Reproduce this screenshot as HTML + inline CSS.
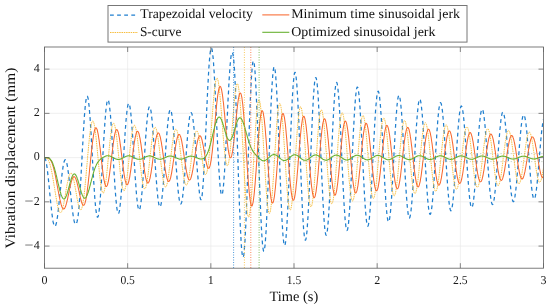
<!DOCTYPE html>
<html lang="en"><head><meta charset="utf-8"><title>Vibration displacement</title>
<style>html,body{margin:0;padding:0;background:#fff}svg{display:block}text{text-rendering:geometricPrecision}</style></head>
<body>
<svg width="550" height="306" viewBox="0 0 550 306">
<rect width="550" height="306" fill="#fff"/>
<path d="M127.67,47.0V268.2M210.83,47.0V268.2M294.00,47.0V268.2M377.17,47.0V268.2M460.33,47.0V268.2M44.5,246.08H543.5M44.5,201.84H543.5M44.5,157.60H543.5M44.5,113.36H543.5M44.5,69.12H543.5" stroke="#e9e9e9" stroke-width="0.7" fill="none"/>
<clipPath id="c"><rect x="44.5" y="47.0" width="499.0" height="221.2"/></clipPath>
<g clip-path="url(#c)" fill="none" stroke-linejoin="round">
<path d="M44.5,157.6 L44.8,157.8 L45.2,158.3 L45.5,159.2 L45.8,160.4 L46.2,162.0 L46.5,163.8 L46.8,166.0 L47.2,168.4 L47.5,171.0 L47.8,173.9 L48.2,176.9 L48.5,180.1 L48.8,183.4 L49.2,186.8 L49.5,190.2 L49.8,193.7 L50.2,197.1 L50.5,200.5 L50.8,203.8 L51.2,207.0 L51.5,210.0 L51.8,212.8 L52.2,215.5 L52.5,217.9 L52.8,220.0 L53.1,221.9 L53.5,223.4 L53.8,224.7 L54.1,225.6 L54.5,226.2 L54.8,226.4 L55.1,226.3 L55.5,225.9 L55.8,225.1 L56.1,224.0 L56.5,222.6 L56.8,220.8 L57.1,218.8 L57.5,216.6 L57.8,214.1 L58.1,211.4 L58.5,208.5 L58.8,205.4 L59.1,202.2 L59.5,199.0 L59.8,195.7 L60.1,192.3 L60.5,189.0 L60.8,185.7 L61.1,182.4 L61.5,179.3 L61.8,176.4 L62.1,173.6 L62.5,170.9 L62.8,168.6 L63.1,166.4 L63.5,164.6 L63.8,163.0 L64.1,161.7 L64.5,160.7 L64.8,160.1 L65.1,159.8 L65.5,159.8 L65.8,160.1 L66.1,160.8 L66.5,161.8 L66.8,163.1 L67.1,164.7 L67.5,166.6 L67.8,168.7 L68.1,171.1 L68.5,173.6 L68.8,176.4 L69.1,179.3 L69.5,182.4 L69.8,185.5 L70.1,188.7 L70.4,192.0 L70.8,195.2 L71.1,198.4 L71.4,201.6 L71.8,204.6 L72.1,207.5 L72.4,210.3 L72.8,212.9 L73.1,215.2 L73.4,217.4 L73.8,219.2 L74.1,220.9 L74.4,222.2 L74.8,223.2 L75.1,223.9 L75.4,224.3 L75.8,224.3 L76.1,224.1 L76.4,223.5 L76.8,222.6 L77.1,221.4 L77.4,220.0 L77.8,218.2 L78.1,216.0 L78.4,213.2 L78.8,209.9 L79.1,206.0 L79.4,201.7 L79.8,196.9 L80.1,191.8 L80.4,186.3 L80.8,180.5 L81.1,174.5 L81.4,168.3 L81.8,162.1 L82.1,155.8 L82.4,149.6 L82.8,143.4 L83.1,137.4 L83.4,131.6 L83.8,126.1 L84.1,120.9 L84.4,116.1 L84.8,111.7 L85.1,107.8 L85.4,104.4 L85.8,101.6 L86.1,99.3 L86.4,97.6 L86.7,96.5 L87.1,96.1 L87.4,96.2 L87.7,97.0 L88.1,98.4 L88.4,100.4 L88.7,103.0 L89.1,106.1 L89.4,109.7 L89.7,113.8 L90.1,118.3 L90.4,123.2 L90.7,128.5 L91.1,134.0 L91.4,139.8 L91.7,145.7 L92.1,151.7 L92.4,157.8 L92.7,163.9 L93.1,169.9 L93.4,175.7 L93.7,181.4 L94.1,186.8 L94.4,191.9 L94.7,196.7 L95.1,201.0 L95.4,204.9 L95.7,208.3 L96.1,211.2 L96.4,213.6 L96.7,215.4 L97.1,216.6 L97.4,217.2 L97.7,217.2 L98.1,216.6 L98.4,215.4 L98.7,213.6 L99.1,211.2 L99.4,208.4 L99.7,205.0 L100.1,201.1 L100.4,196.8 L100.7,192.2 L101.1,187.2 L101.4,181.9 L101.7,176.3 L102.1,170.6 L102.4,164.8 L102.7,158.9 L103.0,153.0 L103.4,147.2 L103.7,141.4 L104.0,135.9 L104.4,130.6 L104.7,125.6 L105.0,120.9 L105.4,116.5 L105.7,112.6 L106.0,109.2 L106.4,106.3 L106.7,103.9 L107.0,102.0 L107.4,100.7 L107.7,100.0 L108.0,99.8 L108.4,100.3 L108.7,101.3 L109.0,102.9 L109.4,105.0 L109.7,107.7 L110.0,110.8 L110.4,114.4 L110.7,118.5 L111.0,122.9 L111.4,127.7 L111.7,132.8 L112.0,138.1 L112.4,143.6 L112.7,149.2 L113.0,154.9 L113.4,160.6 L113.7,166.3 L114.0,171.9 L114.4,177.3 L114.7,182.5 L115.0,187.5 L115.4,192.1 L115.7,196.4 L116.0,200.3 L116.4,203.7 L116.7,206.7 L117.0,209.1 L117.4,211.1 L117.7,212.5 L118.0,213.3 L118.4,213.6 L118.7,213.3 L119.0,212.5 L119.4,211.1 L119.7,209.1 L120.0,206.7 L120.3,203.7 L120.7,200.3 L121.0,196.5 L121.3,192.3 L121.7,187.8 L122.0,182.9 L122.3,177.8 L122.7,172.5 L123.0,167.1 L123.3,161.6 L123.7,156.1 L124.0,150.5 L124.3,145.1 L124.7,139.8 L125.0,134.7 L125.3,129.8 L125.7,125.3 L126.0,121.0 L126.3,117.2 L126.7,113.7 L127.0,110.7 L127.3,108.2 L127.7,106.2 L128.0,104.7 L128.3,103.8 L128.7,103.3 L129.0,103.5 L129.3,104.2 L129.7,105.4 L130.0,107.1 L130.3,109.4 L130.7,112.1 L131.0,115.3 L131.3,118.9 L131.7,122.9 L132.0,127.2 L132.3,131.9 L132.7,136.7 L133.0,141.8 L133.3,147.1 L133.7,152.4 L134.0,157.7 L134.3,163.1 L134.7,168.4 L135.0,173.6 L135.3,178.6 L135.7,183.3 L136.0,187.8 L136.3,192.0 L136.6,195.9 L137.0,199.3 L137.3,202.3 L137.6,204.9 L138.0,207.0 L138.3,208.5 L138.6,209.6 L139.0,210.1 L139.3,210.1 L139.6,209.6 L140.0,208.5 L140.3,207.0 L140.6,204.9 L141.0,202.4 L141.3,199.4 L141.6,196.0 L142.0,192.2 L142.3,188.1 L142.6,183.7 L143.0,179.0 L143.3,174.1 L143.6,169.1 L144.0,164.0 L144.3,158.8 L144.6,153.6 L145.0,148.4 L145.3,143.4 L145.6,138.5 L146.0,133.8 L146.3,129.4 L146.6,125.2 L147.0,121.4 L147.3,118.0 L147.6,114.9 L148.0,112.4 L148.3,110.2 L148.6,108.6 L149.0,107.4 L149.3,106.8 L149.6,106.7 L150.0,107.0 L150.3,107.9 L150.6,109.3 L151.0,111.2 L151.3,113.5 L151.6,116.3 L152.0,119.5 L152.3,123.1 L152.6,127.0 L152.9,131.2 L153.3,135.7 L153.6,140.4 L153.9,145.2 L154.3,150.2 L154.6,155.2 L154.9,160.2 L155.3,165.2 L155.6,170.2 L155.9,174.9 L156.3,179.5 L156.6,183.9 L156.9,188.0 L157.3,191.8 L157.6,195.2 L157.9,198.2 L158.3,200.9 L158.6,203.0 L158.9,204.8 L159.3,206.0 L159.6,206.7 L159.9,207.0 L160.3,206.7 L160.6,206.0 L160.9,204.8 L161.3,203.1 L161.6,200.9 L161.9,198.3 L162.3,195.3 L162.6,191.9 L162.9,188.2 L163.3,184.2 L163.6,179.9 L163.9,175.5 L164.3,170.8 L164.6,166.0 L164.9,161.2 L165.3,156.3 L165.6,151.4 L165.9,146.6 L166.3,141.9 L166.6,137.4 L166.9,133.2 L167.3,129.1 L167.6,125.4 L167.9,122.0 L168.3,118.9 L168.6,116.3 L168.9,114.1 L169.2,112.3 L169.6,111.0 L169.9,110.1 L170.2,109.8 L170.6,109.9 L170.9,110.5 L171.2,111.5 L171.6,113.1 L171.9,115.1 L172.2,117.5 L172.6,120.3 L172.9,123.5 L173.2,127.0 L173.6,130.8 L173.9,134.9 L174.2,139.2 L174.6,143.7 L174.9,148.3 L175.2,153.0 L175.6,157.7 L175.9,162.4 L176.2,167.1 L176.6,171.6 L176.9,176.1 L177.2,180.3 L177.6,184.2 L177.9,187.9 L178.2,191.3 L178.6,194.4 L178.9,197.0 L179.2,199.3 L179.6,201.1 L179.9,202.5 L180.2,203.5 L180.6,203.9 L180.9,203.9 L181.2,203.5 L181.6,202.5 L181.9,201.2 L182.2,199.3 L182.6,197.1 L182.9,194.5 L183.2,191.5 L183.6,188.2 L183.9,184.5 L184.2,180.6 L184.6,176.5 L184.9,172.2 L185.2,167.8 L185.6,163.2 L185.9,158.7 L186.2,154.1 L186.5,149.5 L186.9,145.1 L187.2,140.8 L187.5,136.6 L187.9,132.7 L188.2,129.1 L188.5,125.7 L188.9,122.7 L189.2,120.0 L189.5,117.7 L189.9,115.8 L190.2,114.4 L190.5,113.4 L190.9,112.8 L191.2,112.7 L191.5,113.0 L191.9,113.8 L192.2,115.0 L192.5,116.7 L192.9,118.7 L193.2,121.2 L193.5,124.0 L193.9,127.1 L194.2,130.6 L194.5,134.3 L194.9,138.2 L195.2,142.4 L195.5,146.6 L195.9,151.0 L196.2,155.5 L196.5,159.9 L196.9,164.3 L197.2,168.7 L197.5,172.9 L197.9,176.9 L198.2,180.8 L198.5,184.4 L198.9,187.7 L199.2,190.7 L199.5,193.4 L199.9,195.7 L200.2,197.7 L200.5,199.1 L200.9,199.7 L201.2,199.6 L201.5,198.7 L201.9,197.0 L202.2,194.6 L202.5,191.5 L202.8,187.7 L203.2,183.2 L203.5,178.1 L203.8,172.5 L204.2,166.4 L204.5,159.9 L204.8,153.0 L205.2,145.8 L205.5,138.3 L205.8,130.8 L206.2,123.2 L206.5,115.5 L206.8,108.0 L207.2,100.6 L207.5,93.5 L207.8,86.7 L208.2,80.3 L208.5,74.3 L208.8,68.8 L209.2,63.8 L209.5,59.5 L209.8,55.8 L210.2,52.7 L210.5,50.4 L210.8,48.9 L211.2,48.0 L211.5,48.0 L211.8,48.7 L212.2,50.1 L212.5,52.2 L212.8,55.1 L213.2,58.6 L213.5,62.8 L213.8,67.6 L214.2,72.9 L214.5,78.7 L214.8,85.0 L215.2,91.6 L215.5,98.5 L215.8,105.6 L216.2,112.9 L216.5,120.3 L216.8,127.7 L217.2,135.0 L217.5,142.2 L217.8,149.2 L218.2,155.9 L218.5,162.2 L218.8,168.1 L219.2,173.6 L219.5,178.5 L219.8,182.9 L220.1,186.6 L220.5,189.7 L220.8,192.1 L221.1,193.8 L221.5,194.8 L221.8,195.1 L222.1,194.6 L222.5,193.4 L222.8,191.5 L223.1,188.9 L223.5,185.6 L223.8,181.7 L224.1,177.2 L224.5,172.2 L224.8,166.7 L225.1,160.7 L225.5,154.4 L225.8,147.8 L226.1,140.9 L226.5,133.9 L226.8,126.7 L227.1,119.6 L227.5,112.4 L227.8,105.4 L228.1,98.6 L228.5,92.1 L228.8,85.8 L229.1,80.0 L229.5,74.6 L229.8,69.7 L230.1,65.3 L230.5,61.5 L230.8,58.3 L231.1,55.8 L231.5,54.0 L231.8,52.9 L232.1,52.5 L232.5,52.8 L232.8,53.7 L233.1,55.4 L233.5,57.8 L233.8,60.9 L234.1,64.9 L234.5,69.9 L234.8,75.7 L235.1,82.3 L235.5,89.7 L235.8,97.8 L236.1,106.4 L236.4,115.6 L236.8,125.1 L237.1,135.0 L237.4,145.1 L237.8,155.3 L238.1,165.4 L238.4,175.5 L238.8,185.4 L239.1,195.0 L239.4,204.2 L239.8,212.9 L240.1,221.0 L240.4,228.4 L240.8,235.2 L241.1,241.1 L241.4,246.2 L241.8,250.4 L242.1,253.6 L242.4,255.9 L242.8,257.1 L243.1,257.4 L243.4,256.6 L243.8,254.9 L244.1,252.2 L244.4,248.5 L244.8,243.9 L245.1,238.5 L245.4,232.2 L245.8,225.2 L246.1,217.6 L246.4,209.3 L246.8,200.6 L247.1,191.4 L247.4,181.9 L247.8,172.2 L248.1,162.4 L248.4,152.5 L248.8,142.7 L249.1,133.0 L249.4,123.7 L249.8,114.7 L250.1,106.1 L250.4,98.1 L250.8,90.7 L251.1,84.0 L251.4,78.0 L251.8,72.9 L252.1,68.6 L252.4,65.3 L252.7,62.8 L253.1,61.4 L253.4,60.9 L253.7,61.3 L254.1,62.8 L254.4,65.2 L254.7,68.5 L255.1,72.8 L255.4,77.8 L255.7,83.7 L256.1,90.3 L256.4,97.6 L256.7,105.4 L257.1,113.8 L257.4,122.6 L257.7,131.7 L258.1,141.1 L258.4,150.6 L258.7,160.2 L259.1,169.7 L259.4,179.1 L259.7,188.2 L260.1,197.0 L260.4,205.4 L260.7,213.4 L261.1,220.7 L261.4,227.4 L261.7,233.3 L262.1,238.5 L262.4,242.9 L262.7,246.4 L263.1,248.9 L263.4,250.6 L263.7,251.3 L264.1,251.1 L264.4,249.9 L264.7,247.8 L265.1,244.8 L265.4,240.9 L265.7,236.2 L266.1,230.7 L266.4,224.5 L266.7,217.6 L267.1,210.1 L267.4,202.1 L267.7,193.7 L268.1,185.0 L268.4,175.9 L268.7,166.7 L269.1,157.5 L269.4,148.2 L269.7,139.1 L270.0,130.1 L270.4,121.5 L270.7,113.2 L271.0,105.4 L271.4,98.2 L271.7,91.6 L272.0,85.6 L272.4,80.4 L272.7,76.0 L273.0,72.4 L273.4,69.6 L273.7,67.8 L274.0,66.9 L274.4,66.9 L274.7,67.8 L275.0,69.6 L275.4,72.3 L275.7,75.8 L276.0,80.2 L276.4,85.3 L276.7,91.2 L277.0,97.7 L277.4,104.8 L277.7,112.4 L278.0,120.5 L278.4,128.9 L278.7,137.6 L279.0,146.5 L279.4,155.5 L279.7,164.5 L280.0,173.3 L280.4,182.1 L280.7,190.5 L281.0,198.6 L281.4,206.3 L281.7,213.4 L282.0,220.0 L282.4,226.0 L282.7,231.2 L283.0,235.7 L283.4,239.4 L283.7,242.3 L284.0,244.3 L284.4,245.4 L284.7,245.6 L285.0,245.0 L285.4,243.4 L285.7,241.0 L286.0,237.8 L286.3,233.8 L286.7,229.0 L287.0,223.4 L287.3,217.3 L287.7,210.5 L288.0,203.3 L288.3,195.6 L288.7,187.5 L289.0,179.1 L289.3,170.5 L289.7,161.8 L290.0,153.1 L290.3,144.5 L290.7,136.0 L291.0,127.7 L291.3,119.8 L291.7,112.2 L292.0,105.2 L292.3,98.6 L292.7,92.7 L293.0,87.5 L293.3,82.9 L293.7,79.2 L294.0,76.2 L294.3,74.0 L294.7,72.7 L295.0,72.3 L295.3,72.7 L295.7,74.0 L296.0,76.1 L296.3,79.0 L296.7,82.7 L297.0,87.2 L297.3,92.4 L297.7,98.2 L298.0,104.6 L298.3,111.5 L298.7,118.9 L299.0,126.7 L299.3,134.7 L299.7,143.0 L300.0,151.4 L300.3,159.8 L300.7,168.2 L301.0,176.5 L301.3,184.6 L301.7,192.3 L302.0,199.8 L302.3,206.7 L302.6,213.2 L303.0,219.1 L303.3,224.3 L303.6,228.9 L304.0,232.8 L304.3,235.9 L304.6,238.1 L305.0,239.6 L305.3,240.2 L305.6,240.1 L306.0,239.0 L306.3,237.2 L306.6,234.5 L307.0,231.1 L307.3,227.0 L307.6,222.1 L308.0,216.6 L308.3,210.6 L308.6,204.0 L309.0,196.9 L309.3,189.5 L309.6,181.8 L310.0,173.8 L310.3,165.7 L310.6,157.5 L311.0,149.4 L311.3,141.3 L311.6,133.4 L312.0,125.8 L312.3,118.5 L312.6,111.6 L313.0,105.3 L313.3,99.4 L313.6,94.1 L314.0,89.5 L314.3,85.6 L314.6,82.4 L315.0,80.0 L315.3,78.4 L315.6,77.6 L316.0,77.6 L316.3,78.4 L316.6,80.0 L317.0,82.3 L317.3,85.5 L317.6,89.3 L318.0,93.8 L318.3,99.0 L318.6,104.7 L318.9,111.0 L319.3,117.7 L319.6,124.8 L319.9,132.3 L320.3,139.9 L320.6,147.8 L320.9,155.7 L321.3,163.6 L321.6,171.4 L321.9,179.1 L322.3,186.6 L322.6,193.7 L322.9,200.5 L323.3,206.8 L323.6,212.6 L323.9,217.9 L324.3,222.5 L324.6,226.5 L324.9,229.7 L325.3,232.2 L325.6,234.0 L325.9,235.0 L326.3,235.2 L326.6,234.6 L326.9,233.3 L327.3,231.2 L327.6,228.3 L327.9,224.8 L328.3,220.6 L328.6,215.7 L328.9,210.3 L329.3,204.3 L329.6,197.9 L329.9,191.1 L330.3,184.0 L330.6,176.6 L330.9,169.0 L331.3,161.4 L331.6,153.7 L331.9,146.1 L332.3,138.6 L332.6,131.3 L332.9,124.3 L333.3,117.6 L333.6,111.4 L333.9,105.6 L334.3,100.4 L334.6,95.8 L334.9,91.8 L335.3,88.4 L335.6,85.8 L335.9,83.9 L336.2,82.8 L336.6,82.4 L336.9,82.7 L337.2,83.8 L337.6,85.7 L337.9,88.3 L338.2,91.6 L338.6,95.5 L338.9,100.1 L339.2,105.2 L339.6,110.8 L339.9,116.9 L340.2,123.4 L340.6,130.3 L340.9,137.4 L341.2,144.7 L341.6,152.1 L341.9,159.5 L342.2,166.9 L342.6,174.2 L342.9,181.3 L343.2,188.2 L343.6,194.7 L343.9,200.9 L344.2,206.6 L344.6,211.8 L344.9,216.4 L345.2,220.5 L345.6,223.9 L345.9,226.6 L346.2,228.6 L346.6,229.9 L346.9,230.5 L347.2,230.3 L347.6,229.4 L347.9,227.8 L348.2,225.5 L348.6,222.5 L348.9,218.8 L349.2,214.5 L349.6,209.7 L349.9,204.3 L350.2,198.5 L350.6,192.3 L350.9,185.8 L351.2,179.0 L351.6,171.9 L351.9,164.8 L352.2,157.6 L352.5,150.4 L352.9,143.3 L353.2,136.3 L353.5,129.6 L353.9,123.2 L354.2,117.1 L354.5,111.5 L354.9,106.3 L355.2,101.7 L355.5,97.6 L355.9,94.1 L356.2,91.3 L356.5,89.2 L356.9,87.8 L357.2,87.0 L357.5,87.0 L357.9,87.7 L358.2,89.1 L358.5,91.2 L358.9,94.0 L359.2,97.3 L359.5,101.3 L359.9,105.9 L360.2,110.9 L360.5,116.5 L360.9,122.4 L361.2,128.7 L361.5,135.2 L361.9,142.0 L362.2,148.9 L362.5,155.9 L362.9,162.8 L363.2,169.8 L363.5,176.5 L363.9,183.1 L364.2,189.4 L364.5,195.4 L364.9,201.0 L365.2,206.1 L365.5,210.7 L365.9,214.8 L366.2,218.3 L366.5,221.2 L366.9,223.4 L367.2,225.0 L367.5,225.9 L367.9,226.1 L368.2,225.6 L368.5,224.4 L368.9,222.5 L369.2,220.0 L369.5,216.9 L369.8,213.1 L370.2,208.9 L370.5,204.1 L370.8,198.8 L371.2,193.2 L371.5,187.2 L371.8,180.9 L372.2,174.4 L372.5,167.7 L372.8,161.0 L373.2,154.2 L373.5,147.5 L373.8,140.9 L374.2,134.5 L374.5,128.3 L374.8,122.4 L375.2,116.9 L375.5,111.8 L375.8,107.2 L376.2,103.1 L376.5,99.6 L376.8,96.6 L377.2,94.3 L377.5,92.6 L377.8,91.6 L378.2,91.2 L378.5,91.6 L378.8,92.5 L379.2,94.2 L379.5,96.5 L379.8,99.3 L380.2,102.8 L380.5,106.8 L380.8,111.3 L381.2,116.3 L381.5,121.7 L381.8,127.4 L382.2,133.5 L382.5,139.7 L382.8,146.1 L383.2,152.7 L383.5,159.2 L383.8,165.8 L384.2,172.2 L384.5,178.5 L384.8,184.5 L385.2,190.3 L385.5,195.7 L385.8,200.8 L386.1,205.4 L386.5,209.5 L386.8,213.0 L387.1,216.0 L387.5,218.4 L387.8,220.2 L388.1,221.4 L388.5,221.9 L388.8,221.7 L389.1,220.9 L389.5,219.5 L389.8,217.5 L390.1,214.8 L390.5,211.6 L390.8,207.8 L391.1,203.6 L391.5,198.9 L391.8,193.7 L392.1,188.3 L392.5,182.5 L392.8,176.5 L393.1,170.3 L393.5,164.0 L393.8,157.6 L394.1,151.3 L394.5,145.0 L394.8,138.9 L395.1,132.9 L395.5,127.3 L395.8,121.9 L396.1,116.9 L396.5,112.4 L396.8,108.3 L397.1,104.7 L397.5,101.7 L397.8,99.2 L398.1,97.3 L398.5,96.0 L398.8,95.4 L399.1,95.4 L399.5,96.0 L399.8,97.2 L400.1,99.0 L400.5,101.5 L400.8,104.4 L401.1,108.0 L401.5,112.0 L401.8,116.4 L402.1,121.3 L402.4,126.5 L402.8,132.0 L403.1,137.8 L403.4,143.8 L403.8,149.9 L404.1,156.0 L404.4,162.2 L404.8,168.3 L405.1,174.3 L405.4,180.1 L405.8,185.6 L406.1,190.9 L406.4,195.8 L406.8,200.3 L407.1,204.4 L407.4,208.0 L407.8,211.1 L408.1,213.7 L408.4,215.6 L408.8,217.0 L409.1,217.8 L409.4,218.0 L409.8,217.5 L410.1,216.5 L410.4,214.9 L410.8,212.7 L411.1,209.9 L411.4,206.6 L411.8,202.8 L412.1,198.6 L412.4,194.0 L412.8,189.0 L413.1,183.7 L413.4,178.2 L413.8,172.5 L414.1,166.6 L414.4,160.6 L414.8,154.7 L415.1,148.7 L415.4,142.9 L415.8,137.2 L416.1,131.8 L416.4,126.6 L416.8,121.7 L417.1,117.2 L417.4,113.2 L417.8,109.6 L418.1,106.4 L418.4,103.8 L418.8,101.8 L419.1,100.3 L419.4,99.4 L419.7,99.1 L420.1,99.4 L420.4,100.2 L420.7,101.7 L421.1,103.7 L421.4,106.2 L421.7,109.3 L422.1,112.8 L422.4,116.8 L422.7,121.2 L423.1,125.9 L423.4,131.0 L423.7,136.3 L424.1,141.8 L424.4,147.5 L424.7,153.2 L425.1,159.0 L425.4,164.8 L425.7,170.4 L426.1,176.0 L426.4,181.3 L426.7,186.4 L427.1,191.2 L427.4,195.7 L427.7,199.7 L428.1,203.3 L428.4,206.5 L428.7,209.1 L429.1,211.2 L429.4,212.8 L429.7,213.8 L430.1,214.3 L430.4,214.2 L430.7,213.5 L431.1,212.2 L431.4,210.4 L431.7,208.1 L432.1,205.2 L432.4,201.9 L432.7,198.2 L433.1,194.0 L433.4,189.5 L433.7,184.7 L434.1,179.6 L434.4,174.3 L434.7,168.8 L435.1,163.3 L435.4,157.7 L435.7,152.1 L436.0,146.5 L436.4,141.1 L436.7,135.9 L437.0,130.9 L437.4,126.2 L437.7,121.8 L438.0,117.7 L438.4,114.1 L438.7,111.0 L439.0,108.3 L439.4,106.1 L439.7,104.4 L440.0,103.3 L440.4,102.7 L440.7,102.7 L441.0,103.2 L441.4,104.3 L441.7,105.9 L442.0,108.1 L442.4,110.7 L442.7,113.8 L443.0,117.3 L443.4,121.3 L443.7,125.6 L444.0,130.2 L444.4,135.0 L444.7,140.1 L445.0,145.4 L445.4,150.8 L445.7,156.2 L446.0,161.6 L446.4,167.0 L446.7,172.3 L447.0,177.4 L447.4,182.3 L447.7,186.9 L448.0,191.3 L448.4,195.3 L448.7,198.9 L449.0,202.1 L449.4,204.8 L449.7,207.0 L450.0,208.8 L450.4,210.0 L450.7,210.7 L451.0,210.8 L451.4,210.5 L451.7,209.5 L452.0,208.1 L452.3,206.2 L452.7,203.7 L453.0,200.8 L453.3,197.5 L453.7,193.8 L454.0,189.7 L454.3,185.3 L454.7,180.7 L455.0,175.8 L455.3,170.7 L455.7,165.6 L456.0,160.3 L456.3,155.0 L456.7,149.8 L457.0,144.7 L457.3,139.7 L457.7,134.8 L458.0,130.3 L458.3,126.0 L458.7,122.0 L459.0,118.4 L459.3,115.3 L459.7,112.5 L460.0,110.2 L460.3,108.4 L460.7,107.1 L461.0,106.3 L461.3,106.0 L461.7,106.2 L462.0,107.0 L462.3,108.3 L462.7,110.0 L463.0,112.3 L463.3,115.0 L463.7,118.1 L464.0,121.6 L464.3,125.4 L464.7,129.6 L465.0,134.1 L465.3,138.8 L465.7,143.6 L466.0,148.6 L466.3,153.7 L466.7,158.8 L467.0,163.9 L467.3,168.9 L467.7,173.8 L468.0,178.5 L468.3,183.0 L468.7,187.2 L469.0,191.1 L469.3,194.7 L469.6,197.9 L470.0,200.7 L470.3,203.0 L470.6,204.9 L471.0,206.3 L471.3,207.2 L471.6,207.6 L472.0,207.5 L472.3,206.9 L472.6,205.8 L473.0,204.2 L473.3,202.1 L473.6,199.6 L474.0,196.7 L474.3,193.4 L474.6,189.7 L475.0,185.8 L475.3,181.5 L475.6,177.0 L476.0,172.3 L476.3,167.5 L476.6,162.6 L477.0,157.7 L477.3,152.7 L477.6,147.9 L478.0,143.1 L478.3,138.5 L478.6,134.1 L479.0,129.9 L479.3,126.0 L479.6,122.5 L480.0,119.3 L480.3,116.5 L480.6,114.1 L481.0,112.2 L481.3,110.7 L481.6,109.7 L482.0,109.2 L482.3,109.2 L482.6,109.7 L483.0,110.6 L483.3,112.0 L483.6,113.9 L484.0,116.2 L484.3,119.0 L484.6,122.1 L485.0,125.5 L485.3,129.3 L485.6,133.4 L485.9,137.7 L486.3,142.2 L486.6,146.8 L486.9,151.5 L487.3,156.3 L487.6,161.1 L487.9,165.9 L488.3,170.5 L488.6,175.0 L488.9,179.3 L489.3,183.4 L489.6,187.3 L489.9,190.8 L490.3,194.0 L490.6,196.8 L490.9,199.2 L491.3,201.2 L491.6,202.7 L491.9,203.8 L492.3,204.4 L492.6,204.6 L492.9,204.2 L493.3,203.4 L493.6,202.2 L493.9,200.4 L494.3,198.3 L494.6,195.8 L494.9,192.8 L495.3,189.5 L495.6,186.0 L495.9,182.1 L496.3,178.0 L496.6,173.7 L496.9,169.2 L497.3,164.6 L497.6,160.0 L497.9,155.4 L498.3,150.8 L498.6,146.2 L498.9,141.8 L499.3,137.6 L499.6,133.5 L499.9,129.7 L500.3,126.3 L500.6,123.1 L500.9,120.3 L501.3,117.8 L501.6,115.8 L501.9,114.2 L502.2,113.0 L502.6,112.3 L502.9,112.1 L503.2,112.3 L503.6,113.0 L503.9,114.1 L504.2,115.6 L504.6,117.6 L504.9,120.0 L505.2,122.7 L505.6,125.8 L505.9,129.2 L506.2,132.9 L506.6,136.8 L506.9,141.0 L507.2,145.3 L507.6,149.7 L507.9,154.1 L508.2,158.6 L508.6,163.1 L508.9,167.5 L509.2,171.8 L509.6,176.0 L509.9,180.0 L510.2,183.7 L510.6,187.2 L510.9,190.3 L511.2,193.1 L511.6,195.6 L511.9,197.6 L512.2,199.3 L512.6,200.5 L512.9,201.3 L513.2,201.7 L513.6,201.6 L513.9,201.1 L514.2,200.1 L514.6,198.7 L514.9,196.9 L515.2,194.7 L515.6,192.1 L515.9,189.2 L516.2,186.0 L516.6,182.5 L516.9,178.7 L517.2,174.7 L517.6,170.6 L517.9,166.4 L518.2,162.1 L518.5,157.7 L518.9,153.3 L519.2,149.0 L519.5,144.8 L519.9,140.8 L520.2,136.9 L520.5,133.2 L520.9,129.8 L521.2,126.6 L521.5,123.8 L521.9,121.4 L522.2,119.3 L522.5,117.6 L522.9,116.3 L523.2,115.4 L523.5,114.9 L523.9,114.9 L524.2,115.3 L524.5,116.1 L524.9,117.4 L525.2,119.1 L525.5,121.1 L525.9,123.5 L526.2,126.2 L526.5,129.3 L526.9,132.6 L527.2,136.2 L527.5,140.0 L527.9,144.0 L528.2,148.0 L528.5,152.2 L528.9,156.4 L529.2,160.7 L529.5,164.9 L529.9,169.0 L530.2,172.9 L530.5,176.8 L530.9,180.4 L531.2,183.8 L531.5,186.9 L531.9,189.7 L532.2,192.2 L532.5,194.3 L532.9,196.0 L533.2,197.4 L533.5,198.3 L533.9,198.9 L534.2,199.0 L534.5,198.7 L534.9,198.0 L535.2,196.9 L535.5,195.4 L535.8,193.5 L536.2,191.3 L536.5,188.7 L536.8,185.8 L537.2,182.6 L537.5,179.2 L537.8,175.6 L538.2,171.8 L538.5,167.9 L538.8,163.8 L539.2,159.8 L539.5,155.7 L539.8,151.6 L540.2,147.6 L540.5,143.7 L540.8,140.0 L541.2,136.4 L541.5,133.1 L541.8,130.0 L542.2,127.2 L542.5,124.7 L542.8,122.5 L543.2,120.8 L543.5,119.3" stroke="#1F7FCF" stroke-width="1.25" stroke-dasharray="3.8 3.3"/>
<path d="M44.5,157.6 L44.8,157.6 L45.2,157.6 L45.5,157.6 L45.8,157.7 L46.2,157.8 L46.5,158.0 L46.8,158.2 L47.2,158.5 L47.5,158.8 L47.8,159.3 L48.2,159.8 L48.5,160.4 L48.8,161.1 L49.2,162.0 L49.5,162.9 L49.8,163.9 L50.2,165.1 L50.5,166.3 L50.8,167.6 L51.2,169.1 L51.5,170.6 L51.8,172.2 L52.2,173.9 L52.5,175.7 L52.8,177.5 L53.1,179.4 L53.5,181.4 L53.8,183.4 L54.1,185.4 L54.5,187.5 L54.8,189.5 L55.1,191.6 L55.5,193.6 L55.8,195.7 L56.1,197.7 L56.5,199.6 L56.8,201.5 L57.1,203.3 L57.5,205.0 L57.8,206.5 L58.1,207.9 L58.5,209.1 L58.8,210.2 L59.1,211.1 L59.5,211.8 L59.8,212.3 L60.1,212.6 L60.5,212.7 L60.8,212.6 L61.1,212.3 L61.5,211.8 L61.8,211.1 L62.1,210.2 L62.5,209.2 L62.8,207.9 L63.1,206.6 L63.5,205.0 L63.8,203.4 L64.1,201.7 L64.5,199.8 L64.8,197.9 L65.1,196.0 L65.5,194.0 L65.8,192.0 L66.1,190.0 L66.5,188.0 L66.8,186.1 L67.1,184.3 L67.5,182.6 L67.8,180.9 L68.1,179.4 L68.5,178.0 L68.8,176.8 L69.1,175.7 L69.5,174.8 L69.8,174.0 L70.1,173.5 L70.4,173.2 L70.8,173.0 L71.1,173.1 L71.4,173.3 L71.8,173.8 L72.1,174.4 L72.4,175.2 L72.8,176.2 L73.1,177.3 L73.4,178.6 L73.8,180.1 L74.1,181.6 L74.4,183.3 L74.8,185.0 L75.1,186.9 L75.4,188.8 L75.8,190.7 L76.1,192.6 L76.4,194.5 L76.8,196.4 L77.1,198.3 L77.4,200.1 L77.8,201.8 L78.1,203.4 L78.4,204.9 L78.8,206.3 L79.1,207.5 L79.4,208.4 L79.8,209.2 L80.1,209.7 L80.4,210.0 L80.8,210.0 L81.1,209.8 L81.4,209.3 L81.8,208.4 L82.1,207.3 L82.4,206.0 L82.8,204.3 L83.1,202.3 L83.4,200.1 L83.8,197.7 L84.1,195.0 L84.4,192.1 L84.8,189.0 L85.1,185.7 L85.4,182.2 L85.8,178.6 L86.1,174.9 L86.4,171.2 L86.7,167.3 L87.1,163.5 L87.4,159.6 L87.7,155.8 L88.1,152.1 L88.4,148.4 L88.7,144.8 L89.1,141.4 L89.4,138.2 L89.7,135.1 L90.1,132.3 L90.4,129.8 L90.7,127.5 L91.1,125.6 L91.4,123.9 L91.7,122.7 L92.1,121.7 L92.4,121.2 L92.7,121.0 L93.1,121.1 L93.4,121.7 L93.7,122.6 L94.1,123.8 L94.4,125.4 L94.7,127.3 L95.1,129.6 L95.4,132.0 L95.7,134.8 L96.1,137.8 L96.4,140.9 L96.7,144.2 L97.1,147.7 L97.4,151.3 L97.7,154.9 L98.1,158.5 L98.4,162.1 L98.7,165.6 L99.1,169.1 L99.4,172.5 L99.7,175.6 L100.1,178.6 L100.4,181.4 L100.7,184.0 L101.1,186.2 L101.4,188.2 L101.7,189.9 L102.1,191.2 L102.4,192.2 L102.7,192.8 L103.0,193.1 L103.4,193.0 L103.7,192.6 L104.0,191.8 L104.4,190.7 L104.7,189.2 L105.0,187.4 L105.4,185.3 L105.7,183.0 L106.0,180.4 L106.4,177.6 L106.7,174.5 L107.0,171.4 L107.4,168.0 L107.7,164.6 L108.0,161.1 L108.4,157.6 L108.7,154.1 L109.0,150.7 L109.4,147.3 L109.7,144.0 L110.0,140.9 L110.4,137.9 L110.7,135.2 L111.0,132.7 L111.4,130.4 L111.7,128.4 L112.0,126.7 L112.4,125.4 L112.7,124.3 L113.0,123.6 L113.4,123.2 L113.7,123.2 L114.0,123.6 L114.4,124.2 L114.7,125.3 L115.0,126.6 L115.4,128.2 L115.7,130.2 L116.0,132.4 L116.4,134.9 L116.7,137.5 L117.0,140.4 L117.4,143.5 L117.7,146.7 L118.0,150.0 L118.4,153.3 L118.7,156.7 L119.0,160.1 L119.4,163.5 L119.7,166.8 L120.0,170.0 L120.3,173.1 L120.7,176.0 L121.0,178.7 L121.3,181.2 L121.7,183.4 L122.0,185.4 L122.3,187.1 L122.7,188.5 L123.0,189.6 L123.3,190.4 L123.7,190.8 L124.0,190.9 L124.3,190.7 L124.7,190.1 L125.0,189.2 L125.3,188.0 L125.7,186.5 L126.0,184.7 L126.3,182.6 L126.7,180.3 L127.0,177.7 L127.3,175.0 L127.7,172.0 L128.0,169.0 L128.3,165.8 L128.7,162.6 L129.0,159.3 L129.3,156.0 L129.7,152.7 L130.0,149.5 L130.3,146.4 L130.7,143.4 L131.0,140.5 L131.3,137.8 L131.7,135.3 L132.0,133.1 L132.3,131.1 L132.7,129.4 L133.0,127.9 L133.3,126.8 L133.7,126.0 L134.0,125.5 L134.3,125.3 L134.7,125.4 L135.0,125.9 L135.3,126.7 L135.7,127.8 L136.0,129.2 L136.3,130.9 L136.6,132.9 L137.0,135.0 L137.3,137.5 L137.6,140.1 L138.0,142.9 L138.3,145.8 L138.6,148.9 L139.0,152.0 L139.3,155.2 L139.6,158.4 L140.0,161.5 L140.3,164.7 L140.6,167.7 L141.0,170.7 L141.3,173.5 L141.6,176.1 L142.0,178.6 L142.3,180.8 L142.6,182.8 L143.0,184.6 L143.3,186.0 L143.6,187.2 L144.0,188.1 L144.3,188.6 L144.6,188.9 L145.0,188.8 L145.3,188.4 L145.6,187.8 L146.0,186.8 L146.3,185.5 L146.6,183.9 L147.0,182.1 L147.3,180.0 L147.6,177.7 L148.0,175.2 L148.3,172.6 L148.6,169.8 L149.0,166.8 L149.3,163.8 L149.6,160.7 L150.0,157.6 L150.3,154.6 L150.6,151.5 L151.0,148.5 L151.3,145.6 L151.6,142.9 L152.0,140.3 L152.3,137.8 L152.6,135.6 L152.9,133.6 L153.3,131.9 L153.6,130.4 L153.9,129.2 L154.3,128.2 L154.6,127.6 L154.9,127.3 L155.3,127.3 L155.6,127.6 L155.9,128.2 L156.3,129.1 L156.6,130.2 L156.9,131.7 L157.3,133.4 L157.6,135.4 L157.9,137.5 L158.3,139.9 L158.6,142.4 L158.9,145.1 L159.3,147.9 L159.6,150.8 L159.9,153.8 L160.3,156.8 L160.6,159.8 L160.9,162.8 L161.3,165.7 L161.6,168.5 L161.9,171.2 L162.3,173.8 L162.6,176.2 L162.9,178.4 L163.3,180.4 L163.6,182.1 L163.9,183.6 L164.3,184.9 L164.6,185.8 L164.9,186.5 L165.3,186.9 L165.6,187.0 L165.9,186.8 L166.3,186.3 L166.6,185.5 L166.9,184.4 L167.3,183.1 L167.6,181.5 L167.9,179.7 L168.3,177.6 L168.6,175.4 L168.9,172.9 L169.2,170.4 L169.6,167.7 L169.9,164.9 L170.2,162.0 L170.6,159.1 L170.9,156.2 L171.2,153.3 L171.6,150.5 L171.9,147.7 L172.2,145.1 L172.6,142.5 L172.9,140.2 L173.2,138.0 L173.6,136.0 L173.9,134.2 L174.2,132.7 L174.6,131.4 L174.9,130.4 L175.2,129.7 L175.6,129.3 L175.9,129.1 L176.2,129.2 L176.6,129.7 L176.9,130.4 L177.2,131.3 L177.6,132.6 L177.9,134.0 L178.2,135.8 L178.6,137.7 L178.9,139.8 L179.2,142.1 L179.6,144.6 L179.9,147.2 L180.2,149.9 L180.6,152.6 L180.9,155.4 L181.2,158.2 L181.6,161.1 L181.9,163.8 L182.2,166.5 L182.6,169.1 L182.9,171.6 L183.2,173.9 L183.6,176.1 L183.9,178.1 L184.2,179.8 L184.6,181.4 L184.9,182.7 L185.2,183.7 L185.6,184.5 L185.9,185.0 L186.2,185.2 L186.5,185.1 L186.9,184.8 L187.2,184.2 L187.5,183.3 L187.9,182.2 L188.2,180.8 L188.5,179.2 L188.9,177.4 L189.2,175.4 L189.5,173.2 L189.9,170.8 L190.2,168.3 L190.5,165.8 L190.9,163.1 L191.2,160.4 L191.5,157.7 L191.9,154.9 L192.2,152.2 L192.5,149.6 L192.9,147.1 L193.2,144.6 L193.5,142.3 L193.9,140.2 L194.2,138.2 L194.5,136.5 L194.9,134.9 L195.2,133.6 L195.5,132.5 L195.9,131.7 L196.2,131.2 L196.5,130.9 L196.9,130.9 L197.2,131.1 L197.5,131.7 L197.9,132.4 L198.2,133.5 L198.5,134.7 L198.9,136.3 L199.2,138.0 L199.5,139.9 L199.9,142.0 L200.2,144.2 L200.5,146.6 L200.9,149.1 L201.2,151.6 L201.5,154.1 L201.9,156.7 L202.2,159.2 L202.5,161.6 L202.8,163.9 L203.2,166.1 L203.5,168.1 L203.8,169.8 L204.2,171.3 L204.5,172.6 L204.8,173.6 L205.2,174.2 L205.5,174.6 L205.8,174.6 L206.2,174.2 L206.5,173.5 L206.8,172.4 L207.2,171.0 L207.5,169.2 L207.8,167.1 L208.2,164.7 L208.5,161.9 L208.8,158.8 L209.2,155.5 L209.5,151.9 L209.8,148.1 L210.2,144.0 L210.5,139.8 L210.8,135.5 L211.2,131.1 L211.5,126.5 L211.8,122.0 L212.2,117.5 L212.5,113.0 L212.8,108.7 L213.2,104.4 L213.5,100.4 L213.8,96.6 L214.2,93.1 L214.5,89.9 L214.8,87.0 L215.2,84.5 L215.5,82.4 L215.8,80.7 L216.2,79.4 L216.5,78.6 L216.8,78.2 L217.2,78.2 L217.5,78.7 L217.8,79.7 L218.2,81.1 L218.5,82.8 L218.8,85.0 L219.2,87.6 L219.5,90.5 L219.8,93.7 L220.1,97.3 L220.5,101.0 L220.8,105.0 L221.1,109.1 L221.5,113.4 L221.8,117.8 L222.1,122.2 L222.5,126.6 L222.8,130.9 L223.1,135.2 L223.5,139.3 L223.8,143.2 L224.1,147.0 L224.5,150.4 L224.8,153.6 L225.1,156.5 L225.5,159.0 L225.8,161.2 L226.1,162.9 L226.5,164.3 L226.8,165.2 L227.1,165.7 L227.5,165.7 L227.8,165.4 L228.1,164.6 L228.5,163.3 L228.8,161.7 L229.1,159.7 L229.5,157.3 L229.8,154.5 L230.1,151.5 L230.5,148.1 L230.8,144.6 L231.1,140.7 L231.5,136.8 L231.8,132.7 L232.1,128.4 L232.5,124.2 L232.8,119.9 L233.1,115.7 L233.5,111.6 L233.8,107.5 L234.1,103.7 L234.5,100.0 L234.8,96.6 L235.1,93.6 L235.5,90.9 L235.8,88.5 L236.1,86.6 L236.4,85.1 L236.8,84.1 L237.1,83.7 L237.4,83.7 L237.8,84.2 L238.1,85.2 L238.4,86.8 L238.8,88.9 L239.1,91.5 L239.4,94.6 L239.8,98.1 L240.1,102.1 L240.4,106.5 L240.8,111.2 L241.1,116.3 L241.4,121.7 L241.8,127.3 L242.1,133.2 L242.4,139.2 L242.8,145.3 L243.1,151.4 L243.4,157.6 L243.8,163.7 L244.1,169.7 L244.4,175.6 L244.8,181.2 L245.1,186.6 L245.4,191.7 L245.8,196.5 L246.1,200.8 L246.4,204.7 L246.8,208.1 L247.1,211.0 L247.4,213.4 L247.8,215.2 L248.1,216.4 L248.4,217.0 L248.8,217.0 L249.1,216.4 L249.4,215.2 L249.8,213.5 L250.1,211.2 L250.4,208.3 L250.8,204.9 L251.1,201.1 L251.4,196.8 L251.8,192.2 L252.1,187.2 L252.4,181.9 L252.7,176.4 L253.1,170.7 L253.4,164.9 L253.7,159.0 L254.1,153.1 L254.4,147.3 L254.7,141.6 L255.1,136.1 L255.4,130.8 L255.7,125.7 L256.1,121.0 L256.4,116.7 L256.7,112.8 L257.1,109.4 L257.4,106.5 L257.7,104.0 L258.1,102.2 L258.4,100.9 L258.7,100.1 L259.1,100.0 L259.4,100.4 L259.7,101.4 L260.1,103.0 L260.4,105.1 L260.7,107.7 L261.1,110.9 L261.4,114.5 L261.7,118.5 L262.1,122.9 L262.4,127.7 L262.7,132.7 L263.1,138.0 L263.4,143.5 L263.7,149.1 L264.1,154.8 L264.4,160.5 L264.7,166.2 L265.1,171.7 L265.4,177.1 L265.7,182.3 L266.1,187.3 L266.4,191.9 L266.7,196.2 L267.1,200.1 L267.4,203.5 L267.7,206.5 L268.1,209.0 L268.4,210.9 L268.7,212.3 L269.1,213.2 L269.4,213.5 L269.7,213.2 L270.0,212.4 L270.4,211.0 L270.7,209.1 L271.0,206.6 L271.4,203.7 L271.7,200.3 L272.0,196.5 L272.4,192.3 L272.7,187.8 L273.0,183.0 L273.4,177.9 L273.7,172.6 L274.0,167.2 L274.4,161.7 L274.7,156.2 L275.0,150.7 L275.4,145.3 L275.7,140.0 L276.0,134.9 L276.4,130.0 L276.7,125.4 L277.0,121.2 L277.4,117.4 L277.7,113.9 L278.0,110.9 L278.4,108.4 L278.7,106.4 L279.0,104.9 L279.4,103.9 L279.7,103.5 L280.0,103.6 L280.4,104.3 L280.7,105.5 L281.0,107.2 L281.4,109.5 L281.7,112.2 L282.0,115.3 L282.4,118.9 L282.7,122.9 L283.0,127.2 L283.4,131.8 L283.7,136.7 L284.0,141.8 L284.4,147.0 L284.7,152.3 L285.0,157.6 L285.4,163.0 L285.7,168.3 L286.0,173.4 L286.3,178.4 L286.7,183.2 L287.0,187.7 L287.3,191.9 L287.7,195.7 L288.0,199.1 L288.3,202.2 L288.7,204.7 L289.0,206.8 L289.3,208.4 L289.7,209.4 L290.0,210.0 L290.3,210.0 L290.7,209.5 L291.0,208.4 L291.3,206.9 L291.7,204.8 L292.0,202.3 L292.3,199.4 L292.7,196.0 L293.0,192.2 L293.3,188.1 L293.7,183.7 L294.0,179.1 L294.3,174.2 L294.7,169.2 L295.0,164.1 L295.3,158.9 L295.7,153.7 L296.0,148.6 L296.3,143.5 L296.7,138.6 L297.0,134.0 L297.3,129.5 L297.7,125.4 L298.0,121.6 L298.3,118.1 L298.7,115.1 L299.0,112.5 L299.3,110.4 L299.7,108.7 L300.0,107.6 L300.3,106.9 L300.7,106.8 L301.0,107.1 L301.3,108.0 L301.7,109.4 L302.0,111.3 L302.3,113.6 L302.6,116.4 L303.0,119.5 L303.3,123.1 L303.6,127.0 L304.0,131.2 L304.3,135.6 L304.6,140.3 L305.0,145.1 L305.3,150.1 L305.6,155.1 L306.0,160.1 L306.3,165.1 L306.6,170.0 L307.0,174.8 L307.3,179.4 L307.6,183.7 L308.0,187.8 L308.3,191.6 L308.6,195.0 L309.0,198.1 L309.3,200.7 L309.6,202.9 L310.0,204.6 L310.3,205.8 L310.6,206.6 L311.0,206.9 L311.3,206.6 L311.6,205.9 L312.0,204.7 L312.3,203.0 L312.6,200.8 L313.0,198.3 L313.3,195.3 L313.6,191.9 L314.0,188.2 L314.3,184.2 L314.6,180.0 L315.0,175.5 L315.3,170.9 L315.6,166.1 L316.0,161.3 L316.3,156.4 L316.6,151.5 L317.0,146.7 L317.3,142.1 L317.6,137.6 L318.0,133.3 L318.3,129.3 L318.6,125.5 L318.9,122.1 L319.3,119.1 L319.6,116.4 L319.9,114.2 L320.3,112.4 L320.6,111.1 L320.9,110.2 L321.3,109.9 L321.6,110.0 L321.9,110.6 L322.3,111.6 L322.6,113.2 L322.9,115.1 L323.3,117.5 L323.6,120.3 L323.9,123.5 L324.3,127.0 L324.6,130.8 L324.9,134.8 L325.3,139.1 L325.6,143.6 L325.9,148.2 L326.3,152.9 L326.6,157.6 L326.9,162.3 L327.3,167.0 L327.6,171.5 L327.9,175.9 L328.3,180.1 L328.6,184.1 L328.9,187.8 L329.3,191.2 L329.6,194.2 L329.9,196.9 L330.3,199.1 L330.6,201.0 L330.9,202.4 L331.3,203.3 L331.6,203.8 L331.9,203.8 L332.3,203.4 L332.6,202.4 L332.9,201.1 L333.3,199.3 L333.6,197.1 L333.9,194.5 L334.3,191.5 L334.6,188.2 L334.9,184.5 L335.3,180.7 L335.6,176.6 L335.9,172.3 L336.2,167.8 L336.6,163.3 L336.9,158.8 L337.2,154.2 L337.6,149.7 L337.9,145.2 L338.2,140.9 L338.6,136.8 L338.9,132.9 L339.2,129.2 L339.6,125.9 L339.9,122.8 L340.2,120.1 L340.6,117.9 L340.9,116.0 L341.2,114.5 L341.6,113.5 L341.9,112.9 L342.2,112.8 L342.6,113.1 L342.9,113.9 L343.2,115.1 L343.6,116.7 L343.9,118.8 L344.2,121.2 L344.6,124.0 L344.9,127.1 L345.2,130.6 L345.6,134.3 L345.9,138.2 L346.2,142.3 L346.6,146.6 L346.9,150.9 L347.2,155.4 L347.6,159.8 L347.9,164.2 L348.2,168.5 L348.6,172.7 L348.9,176.8 L349.2,180.6 L349.6,184.2 L349.9,187.6 L350.2,190.6 L350.6,193.3 L350.9,195.6 L351.2,197.5 L351.6,199.0 L351.9,200.1 L352.2,200.8 L352.5,201.0 L352.9,200.8 L353.2,200.2 L353.5,199.1 L353.9,197.6 L354.2,195.8 L354.5,193.5 L354.9,190.9 L355.2,187.9 L355.5,184.6 L355.9,181.1 L356.2,177.4 L356.5,173.4 L356.9,169.3 L357.2,165.1 L357.5,160.8 L357.9,156.5 L358.2,152.3 L358.5,148.1 L358.9,143.9 L359.2,140.0 L359.5,136.2 L359.9,132.6 L360.2,129.3 L360.5,126.3 L360.9,123.6 L361.2,121.3 L361.5,119.3 L361.9,117.8 L362.2,116.6 L362.5,115.8 L362.9,115.5 L363.2,115.6 L363.5,116.1 L363.9,117.1 L364.2,118.4 L364.5,120.1 L364.9,122.2 L365.2,124.7 L365.5,127.5 L365.9,130.6 L366.2,133.9 L366.5,137.5 L366.9,141.3 L367.2,145.2 L367.5,149.3 L367.9,153.4 L368.2,157.6 L368.5,161.7 L368.9,165.8 L369.2,169.8 L369.5,173.7 L369.8,177.4 L370.2,180.9 L370.5,184.2 L370.8,187.2 L371.2,189.9 L371.5,192.2 L371.8,194.2 L372.2,195.8 L372.5,197.1 L372.8,197.9 L373.2,198.3 L373.5,198.4 L373.8,198.0 L374.2,197.2 L374.5,196.0 L374.8,194.4 L375.2,192.4 L375.5,190.1 L375.8,187.5 L376.2,184.6 L376.5,181.4 L376.8,178.0 L377.2,174.3 L377.5,170.6 L377.8,166.7 L378.2,162.7 L378.5,158.6 L378.8,154.6 L379.2,150.6 L379.5,146.7 L379.8,142.9 L380.2,139.3 L380.5,135.8 L380.8,132.6 L381.2,129.6 L381.5,126.9 L381.8,124.6 L382.2,122.6 L382.5,120.9 L382.8,119.6 L383.2,118.7 L383.5,118.2 L383.8,118.1 L384.2,118.4 L384.5,119.0 L384.8,120.1 L385.2,121.5 L385.5,123.4 L385.8,125.5 L386.1,128.0 L386.5,130.7 L386.8,133.8 L387.1,137.0 L387.5,140.5 L387.8,144.1 L388.1,147.9 L388.5,151.7 L388.8,155.6 L389.1,159.5 L389.5,163.4 L389.8,167.2 L390.1,170.9 L390.5,174.5 L390.8,177.9 L391.1,181.1 L391.5,184.0 L391.8,186.7 L392.1,189.0 L392.5,191.1 L392.8,192.8 L393.1,194.1 L393.5,195.1 L393.8,195.7 L394.1,195.9 L394.5,195.7 L394.8,195.2 L395.1,194.2 L395.5,192.9 L395.8,191.3 L396.1,189.3 L396.5,186.9 L396.8,184.3 L397.1,181.5 L397.5,178.4 L397.8,175.1 L398.1,171.6 L398.5,168.0 L398.8,164.3 L399.1,160.5 L399.5,156.7 L399.8,152.9 L400.1,149.2 L400.5,145.6 L400.8,142.1 L401.1,138.7 L401.5,135.6 L401.8,132.7 L402.1,130.0 L402.4,127.7 L402.8,125.6 L403.1,123.9 L403.4,122.5 L403.8,121.4 L404.1,120.8 L404.4,120.5 L404.8,120.6 L405.1,121.0 L405.4,121.8 L405.8,123.0 L406.1,124.5 L406.4,126.4 L406.8,128.6 L407.1,131.0 L407.4,133.7 L407.8,136.7 L408.1,139.9 L408.4,143.2 L408.8,146.7 L409.1,150.2 L409.4,153.9 L409.8,157.6 L410.1,161.2 L410.4,164.8 L410.8,168.4 L411.1,171.8 L411.4,175.1 L411.8,178.2 L412.1,181.0 L412.4,183.7 L412.8,186.1 L413.1,188.1 L413.4,189.9 L413.8,191.3 L414.1,192.4 L414.4,193.2 L414.8,193.5 L415.1,193.5 L415.4,193.2 L415.8,192.5 L416.1,191.4 L416.4,190.0 L416.8,188.3 L417.1,186.3 L417.4,184.0 L417.8,181.4 L418.1,178.6 L418.4,175.6 L418.8,172.4 L419.1,169.1 L419.4,165.6 L419.7,162.1 L420.1,158.5 L420.4,155.0 L420.7,151.5 L421.1,148.0 L421.4,144.7 L421.7,141.4 L422.1,138.4 L422.4,135.6 L422.7,132.9 L423.1,130.6 L423.4,128.5 L423.7,126.7 L424.1,125.2 L424.4,124.1 L424.7,123.3 L425.1,122.8 L425.4,122.7 L425.7,123.0 L426.1,123.6 L426.4,124.5 L426.7,125.8 L427.1,127.4 L427.4,129.3 L427.7,131.5 L428.1,133.9 L428.4,136.6 L428.7,139.4 L429.1,142.5 L429.4,145.7 L429.7,149.0 L430.1,152.4 L430.4,155.8 L430.7,159.3 L431.1,162.7 L431.4,166.1 L431.7,169.3 L432.1,172.5 L432.4,175.5 L432.7,178.3 L433.1,180.9 L433.4,183.2 L433.7,185.3 L434.1,187.1 L434.4,188.6 L434.7,189.8 L435.1,190.7 L435.4,191.2 L435.7,191.4 L436.0,191.2 L436.4,190.7 L436.7,189.9 L437.0,188.8 L437.4,187.3 L437.7,185.5 L438.0,183.5 L438.4,181.2 L438.7,178.7 L439.0,175.9 L439.4,173.0 L439.7,169.9 L440.0,166.8 L440.4,163.5 L440.7,160.2 L441.0,156.8 L441.4,153.5 L441.7,150.2 L442.0,147.0 L442.4,143.9 L442.7,141.0 L443.0,138.2 L443.4,135.7 L443.7,133.3 L444.0,131.2 L444.4,129.4 L444.7,127.9 L445.0,126.6 L445.4,125.7 L445.7,125.1 L446.0,124.9 L446.4,124.9 L446.7,125.3 L447.0,126.1 L447.4,127.1 L447.7,128.4 L448.0,130.1 L448.4,132.0 L448.7,134.2 L449.0,136.5 L449.4,139.2 L449.7,141.9 L450.0,144.9 L450.4,147.9 L450.7,151.1 L451.0,154.3 L451.4,157.5 L451.7,160.8 L452.0,164.0 L452.3,167.1 L452.7,170.1 L453.0,173.0 L453.3,175.7 L453.7,178.3 L454.0,180.6 L454.3,182.7 L454.7,184.5 L455.0,186.1 L455.3,187.3 L455.7,188.3 L456.0,189.0 L456.3,189.3 L456.7,189.3 L457.0,189.0 L457.3,188.4 L457.7,187.4 L458.0,186.2 L458.3,184.7 L458.7,182.9 L459.0,180.9 L459.3,178.6 L459.7,176.1 L460.0,173.5 L460.3,170.7 L460.7,167.7 L461.0,164.7 L461.3,161.6 L461.7,158.5 L462.0,155.3 L462.3,152.2 L462.7,149.2 L463.0,146.2 L463.3,143.4 L463.7,140.7 L464.0,138.2 L464.3,135.9 L464.7,133.8 L465.0,131.9 L465.3,130.4 L465.7,129.1 L466.0,128.1 L466.3,127.3 L466.7,126.9 L467.0,126.9 L467.3,127.1 L467.7,127.6 L468.0,128.4 L468.3,129.5 L468.7,130.9 L469.0,132.6 L469.3,134.5 L469.6,136.7 L470.0,139.0 L470.3,141.6 L470.6,144.2 L471.0,147.1 L471.3,150.0 L471.6,153.0 L472.0,156.0 L472.3,159.1 L472.6,162.1 L473.0,165.0 L473.3,167.9 L473.6,170.7 L474.0,173.4 L474.3,175.8 L474.6,178.1 L475.0,180.2 L475.3,182.0 L475.6,183.6 L476.0,185.0 L476.3,186.0 L476.6,186.8 L477.0,187.2 L477.3,187.4 L477.6,187.3 L478.0,186.8 L478.3,186.1 L478.6,185.1 L479.0,183.8 L479.3,182.2 L479.6,180.4 L480.0,178.4 L480.3,176.2 L480.6,173.8 L481.0,171.2 L481.3,168.5 L481.6,165.7 L482.0,162.8 L482.3,159.9 L482.6,156.9 L483.0,154.0 L483.3,151.1 L483.6,148.3 L484.0,145.6 L484.3,143.0 L484.6,140.5 L485.0,138.3 L485.3,136.2 L485.6,134.3 L485.9,132.7 L486.3,131.4 L486.6,130.3 L486.9,129.5 L487.3,129.0 L487.6,128.7 L487.9,128.8 L488.3,129.1 L488.6,129.8 L488.9,130.7 L489.3,131.9 L489.6,133.3 L489.9,135.0 L490.3,136.9 L490.6,139.0 L490.9,141.3 L491.3,143.8 L491.6,146.4 L491.9,149.1 L492.3,151.8 L492.6,154.7 L492.9,157.5 L493.3,160.4 L493.6,163.2 L493.9,165.9 L494.3,168.6 L494.6,171.2 L494.9,173.6 L495.3,175.8 L495.6,177.9 L495.9,179.7 L496.3,181.3 L496.6,182.7 L496.9,183.8 L497.3,184.7 L497.6,185.2 L497.9,185.5 L498.3,185.6 L498.6,185.3 L498.9,184.7 L499.3,183.9 L499.6,182.8 L499.9,181.5 L500.3,179.9 L500.6,178.1 L500.9,176.1 L501.3,174.0 L501.6,171.6 L501.9,169.1 L502.2,166.5 L502.6,163.9 L502.9,161.1 L503.2,158.4 L503.6,155.6 L503.9,152.9 L504.2,150.2 L504.6,147.6 L504.9,145.1 L505.2,142.7 L505.6,140.5 L505.9,138.4 L506.2,136.6 L506.6,135.0 L506.9,133.6 L507.2,132.4 L507.6,131.6 L507.9,130.9 L508.2,130.6 L508.6,130.5 L508.9,130.7 L509.2,131.1 L509.6,131.9 L509.9,132.9 L510.2,134.1 L510.6,135.6 L510.9,137.2 L511.2,139.1 L511.6,141.2 L511.9,143.4 L512.2,145.8 L512.6,148.3 L512.9,150.9 L513.2,153.5 L513.6,156.2 L513.9,158.9 L514.2,161.5 L514.6,164.1 L514.9,166.7 L515.2,169.1 L515.6,171.5 L515.9,173.7 L516.2,175.7 L516.6,177.5 L516.9,179.1 L517.2,180.5 L517.6,181.7 L517.9,182.6 L518.2,183.3 L518.5,183.7 L518.9,183.9 L519.2,183.8 L519.5,183.4 L519.9,182.7 L520.2,181.8 L520.5,180.7 L520.9,179.3 L521.2,177.8 L521.5,176.0 L521.9,174.0 L522.2,171.9 L522.5,169.6 L522.9,167.2 L523.2,164.8 L523.5,162.2 L523.9,159.6 L524.2,157.0 L524.5,154.4 L524.9,151.9 L525.2,149.4 L525.5,147.0 L525.9,144.7 L526.2,142.6 L526.5,140.6 L526.9,138.7 L527.2,137.1 L527.5,135.7 L527.9,134.5 L528.2,133.5 L528.5,132.8 L528.9,132.4 L529.2,132.1 L529.5,132.2 L529.9,132.5 L530.2,133.1 L530.5,133.9 L530.9,134.9 L531.2,136.2 L531.5,137.7 L531.9,139.3 L532.2,141.2 L532.5,143.2 L532.9,145.4 L533.2,147.7 L533.5,150.1 L533.9,152.5 L534.2,155.0 L534.5,157.5 L534.9,160.0 L535.2,162.5 L535.5,164.9 L535.8,167.3 L536.2,169.5 L536.5,171.7 L536.8,173.6 L537.2,175.5 L537.5,177.1 L537.8,178.5 L538.2,179.7 L538.5,180.7 L538.8,181.5 L539.2,182.0 L539.5,182.2 L539.8,182.3 L540.2,182.0 L540.5,181.5 L540.8,180.8 L541.2,179.9 L541.5,178.7 L541.8,177.3 L542.2,175.7 L542.5,174.0 L542.8,172.0 L543.2,170.0 L543.5,167.8" stroke="#F7BB35" stroke-width="0.95" stroke-dasharray="1.5 0.8"/>
<path d="M44.5,157.6 L44.8,157.6 L45.2,157.6 L45.5,157.6 L45.8,157.6 L46.2,157.6 L46.5,157.6 L46.8,157.7 L47.2,157.7 L47.5,157.8 L47.8,157.9 L48.2,158.0 L48.5,158.1 L48.8,158.3 L49.2,158.5 L49.5,158.8 L49.8,159.1 L50.2,159.5 L50.5,160.0 L50.8,160.5 L51.2,161.1 L51.5,161.8 L51.8,162.5 L52.2,163.4 L52.5,164.3 L52.8,165.3 L53.1,166.4 L53.5,167.5 L53.8,168.8 L54.1,170.1 L54.5,171.6 L54.8,173.0 L55.1,174.6 L55.5,176.2 L55.8,177.9 L56.1,179.6 L56.5,181.4 L56.8,183.2 L57.1,185.0 L57.5,186.8 L57.8,188.6 L58.1,190.5 L58.5,192.2 L58.8,194.0 L59.1,195.7 L59.5,197.4 L59.8,199.0 L60.1,200.5 L60.5,201.9 L60.8,203.2 L61.1,204.4 L61.5,205.5 L61.8,206.5 L62.1,207.3 L62.5,207.9 L62.8,208.4 L63.1,208.8 L63.5,208.9 L63.8,208.9 L64.1,208.8 L64.5,208.5 L64.8,208.0 L65.1,207.3 L65.5,206.6 L65.8,205.6 L66.1,204.6 L66.5,203.4 L66.8,202.1 L67.1,200.7 L67.5,199.3 L67.8,197.8 L68.1,196.2 L68.5,194.6 L68.8,193.0 L69.1,191.4 L69.5,189.7 L69.8,188.2 L70.1,186.6 L70.4,185.2 L70.8,183.8 L71.1,182.5 L71.4,181.3 L71.8,180.2 L72.1,179.3 L72.4,178.5 L72.8,177.8 L73.1,177.3 L73.4,176.9 L73.8,176.7 L74.1,176.6 L74.4,176.8 L74.8,177.0 L75.1,177.5 L75.4,178.0 L75.8,178.8 L76.1,179.6 L76.4,180.6 L76.8,181.7 L77.1,182.9 L77.4,184.3 L77.8,185.7 L78.1,187.1 L78.4,188.6 L78.8,190.2 L79.1,191.7 L79.4,193.3 L79.8,194.8 L80.1,196.3 L80.4,197.8 L80.8,199.2 L81.1,200.5 L81.4,201.6 L81.8,202.7 L82.1,203.5 L82.4,204.3 L82.8,204.8 L83.1,205.2 L83.4,205.3 L83.8,205.3 L84.1,205.0 L84.4,204.5 L84.8,203.7 L85.1,202.7 L85.4,201.5 L85.8,200.1 L86.1,198.4 L86.4,196.5 L86.7,194.4 L87.1,192.1 L87.4,189.6 L87.7,187.0 L88.1,184.1 L88.4,181.2 L88.7,178.1 L89.1,175.0 L89.4,171.7 L89.7,168.4 L90.1,165.1 L90.4,161.8 L90.7,158.5 L91.1,155.3 L91.4,152.1 L91.7,149.1 L92.1,146.1 L92.4,143.3 L92.7,140.7 L93.1,138.3 L93.4,136.1 L93.7,134.1 L94.1,132.4 L94.4,130.9 L94.7,129.7 L95.1,128.8 L95.4,128.2 L95.7,127.8 L96.1,127.8 L96.4,128.1 L96.7,128.7 L97.1,129.5 L97.4,130.7 L97.7,132.1 L98.1,133.8 L98.4,135.7 L98.7,137.8 L99.1,140.1 L99.4,142.6 L99.7,145.2 L100.1,148.0 L100.4,150.8 L100.7,153.8 L101.1,156.7 L101.4,159.7 L101.7,162.6 L102.1,165.4 L102.4,168.2 L102.7,170.9 L103.0,173.4 L103.4,175.8 L103.7,178.0 L104.0,179.9 L104.4,181.7 L104.7,183.2 L105.0,184.4 L105.4,185.3 L105.7,186.0 L106.0,186.4 L106.4,186.5 L106.7,186.3 L107.0,185.8 L107.4,185.0 L107.7,184.0 L108.0,182.7 L108.4,181.1 L108.7,179.3 L109.0,177.3 L109.4,175.1 L109.7,172.8 L110.0,170.2 L110.4,167.6 L110.7,164.8 L111.0,162.0 L111.4,159.2 L111.7,156.3 L112.0,153.5 L112.4,150.7 L112.7,148.0 L113.0,145.4 L113.4,142.9 L113.7,140.5 L114.0,138.4 L114.4,136.4 L114.7,134.7 L115.0,133.2 L115.4,131.9 L115.7,130.9 L116.0,130.2 L116.4,129.8 L116.7,129.6 L117.0,129.7 L117.4,130.1 L117.7,130.8 L118.0,131.7 L118.4,132.9 L118.7,134.4 L119.0,136.1 L119.4,138.0 L119.7,140.1 L120.0,142.3 L120.3,144.7 L120.7,147.3 L121.0,149.9 L121.3,152.6 L121.7,155.4 L122.0,158.1 L122.3,160.9 L122.7,163.6 L123.0,166.3 L123.3,168.8 L123.7,171.3 L124.0,173.6 L124.3,175.7 L124.7,177.7 L125.0,179.4 L125.3,180.9 L125.7,182.2 L126.0,183.2 L126.3,184.0 L126.7,184.5 L127.0,184.7 L127.3,184.7 L127.7,184.4 L128.0,183.8 L128.3,182.9 L128.7,181.8 L129.0,180.5 L129.3,178.9 L129.7,177.1 L130.0,175.1 L130.3,173.0 L130.7,170.7 L131.0,168.2 L131.3,165.7 L131.7,163.1 L132.0,160.4 L132.3,157.8 L132.7,155.1 L133.0,152.4 L133.3,149.8 L133.7,147.3 L134.0,144.9 L134.3,142.7 L134.7,140.6 L135.0,138.6 L135.3,136.9 L135.7,135.4 L136.0,134.1 L136.3,133.0 L136.6,132.2 L137.0,131.6 L137.3,131.3 L137.6,131.3 L138.0,131.6 L138.3,132.1 L138.6,132.8 L139.0,133.8 L139.3,135.1 L139.6,136.6 L140.0,138.2 L140.3,140.1 L140.6,142.2 L141.0,144.4 L141.3,146.7 L141.6,149.1 L142.0,151.6 L142.3,154.2 L142.6,156.8 L143.0,159.4 L143.3,162.0 L143.6,164.5 L144.0,167.0 L144.3,169.3 L144.6,171.5 L145.0,173.6 L145.3,175.5 L145.6,177.3 L146.0,178.8 L146.3,180.1 L146.6,181.2 L147.0,182.1 L147.3,182.7 L147.6,183.0 L148.0,183.1 L148.3,182.9 L148.6,182.5 L149.0,181.8 L149.3,180.9 L149.6,179.7 L150.0,178.4 L150.3,176.8 L150.6,175.0 L151.0,173.1 L151.3,171.0 L151.6,168.8 L152.0,166.4 L152.3,164.0 L152.6,161.5 L152.9,159.0 L153.3,156.5 L153.6,154.0 L153.9,151.5 L154.3,149.1 L154.6,146.8 L154.9,144.6 L155.3,142.6 L155.6,140.7 L155.9,138.9 L156.3,137.4 L156.6,136.1 L156.9,135.0 L157.3,134.1 L157.6,133.4 L157.9,133.0 L158.3,132.9 L158.6,133.0 L158.9,133.4 L159.3,133.9 L159.6,134.8 L159.9,135.8 L160.3,137.1 L160.6,138.6 L160.9,140.3 L161.3,142.1 L161.6,144.1 L161.9,146.2 L162.3,148.5 L162.6,150.8 L162.9,153.2 L163.3,155.6 L163.6,158.1 L163.9,160.5 L164.3,162.9 L164.6,165.2 L164.9,167.5 L165.3,169.6 L165.6,171.7 L165.9,173.6 L166.3,175.3 L166.6,176.8 L166.9,178.2 L167.3,179.3 L167.6,180.2 L167.9,180.9 L168.3,181.3 L168.6,181.5 L168.9,181.5 L169.2,181.2 L169.6,180.7 L169.9,179.9 L170.2,179.0 L170.6,177.8 L170.9,176.4 L171.2,174.8 L171.6,173.1 L171.9,171.2 L172.2,169.1 L172.6,167.0 L172.9,164.8 L173.2,162.5 L173.6,160.1 L173.9,157.8 L174.2,155.4 L174.6,153.1 L174.9,150.8 L175.2,148.6 L175.6,146.4 L175.9,144.4 L176.2,142.6 L176.6,140.9 L176.9,139.3 L177.2,138.0 L177.6,136.8 L177.9,135.9 L178.2,135.2 L178.6,134.7 L178.9,134.4 L179.2,134.4 L179.6,134.6 L179.9,135.1 L180.2,135.8 L180.6,136.6 L180.9,137.7 L181.2,139.0 L181.6,140.5 L181.9,142.2 L182.2,144.0 L182.6,145.9 L182.9,148.0 L183.2,150.1 L183.6,152.3 L183.9,154.6 L184.2,156.9 L184.6,159.2 L184.9,161.4 L185.2,163.7 L185.6,165.8 L185.9,167.9 L186.2,169.9 L186.5,171.7 L186.9,173.4 L187.2,174.9 L187.5,176.3 L187.9,177.5 L188.2,178.4 L188.5,179.2 L188.9,179.7 L189.2,180.0 L189.5,180.1 L189.9,179.9 L190.2,179.6 L190.5,179.0 L190.9,178.1 L191.2,177.1 L191.5,175.9 L191.9,174.5 L192.2,173.0 L192.5,171.3 L192.9,169.4 L193.2,167.5 L193.5,165.4 L193.9,163.3 L194.2,161.1 L194.5,158.9 L194.9,156.6 L195.2,154.4 L195.5,152.3 L195.9,150.1 L196.2,148.1 L196.5,146.2 L196.9,144.4 L197.2,142.7 L197.5,141.2 L197.9,139.8 L198.2,138.6 L198.5,137.6 L198.9,136.9 L199.2,136.3 L199.5,135.9 L199.9,135.8 L200.2,135.9 L200.5,136.2 L200.9,136.7 L201.2,137.5 L201.5,138.4 L201.9,139.5 L202.2,140.8 L202.5,142.3 L202.8,143.8 L203.2,145.5 L203.5,147.3 L203.8,149.2 L204.2,151.1 L204.5,153.1 L204.8,155.0 L205.2,156.9 L205.5,158.7 L205.8,160.4 L206.2,162.1 L206.5,163.6 L206.8,164.9 L207.2,166.0 L207.5,167.0 L207.8,167.7 L208.2,168.1 L208.5,168.3 L208.8,168.3 L209.2,167.9 L209.5,167.3 L209.8,166.4 L210.2,165.2 L210.5,163.7 L210.8,161.9 L211.2,159.8 L211.5,157.5 L211.8,155.0 L212.2,152.2 L212.5,149.2 L212.8,146.0 L213.2,142.6 L213.5,139.1 L213.8,135.5 L214.2,131.8 L214.5,128.0 L214.8,124.3 L215.2,120.5 L215.5,116.8 L215.8,113.2 L216.2,109.7 L216.5,106.3 L216.8,103.1 L217.2,100.1 L217.5,97.4 L217.8,94.9 L218.2,92.7 L218.5,90.8 L218.8,89.2 L219.2,88.0 L219.5,87.1 L219.8,86.6 L220.1,86.4 L220.5,86.6 L220.8,87.2 L221.1,88.1 L221.5,89.4 L221.8,91.0 L222.1,92.9 L222.5,95.2 L222.8,97.6 L223.1,100.4 L223.5,103.3 L223.8,106.5 L224.1,109.8 L224.5,113.2 L224.8,116.7 L225.1,120.3 L225.5,123.9 L225.8,127.5 L226.1,131.0 L226.5,134.4 L226.8,137.7 L227.1,140.8 L227.5,143.7 L227.8,146.5 L228.1,149.0 L228.5,151.2 L228.8,153.1 L229.1,154.7 L229.5,156.0 L229.8,156.9 L230.1,157.5 L230.5,157.7 L230.8,157.6 L231.1,157.2 L231.5,156.4 L231.8,155.2 L232.1,153.7 L232.5,151.9 L232.8,149.9 L233.1,147.5 L233.5,144.9 L233.8,142.1 L234.1,139.1 L234.5,135.9 L234.8,132.6 L235.1,129.3 L235.5,125.8 L235.8,122.4 L236.1,119.0 L236.4,115.6 L236.8,112.3 L237.1,109.2 L237.4,106.3 L237.8,103.5 L238.1,101.1 L238.4,98.9 L238.8,97.0 L239.1,95.4 L239.4,94.2 L239.8,93.4 L240.1,93.0 L240.4,93.0 L240.8,93.4 L241.1,94.2 L241.4,95.5 L241.8,97.1 L242.1,99.2 L242.4,101.7 L242.8,104.6 L243.1,107.9 L243.4,111.5 L243.8,115.4 L244.1,119.6 L244.4,124.1 L244.8,128.8 L245.1,133.6 L245.4,138.7 L245.8,143.8 L246.1,148.9 L246.4,154.1 L246.8,159.3 L247.1,164.4 L247.4,169.3 L247.8,174.1 L248.1,178.7 L248.4,183.1 L248.8,187.1 L249.1,190.9 L249.4,194.3 L249.8,197.3 L250.1,199.9 L250.4,202.0 L250.8,203.7 L251.1,205.0 L251.4,205.8 L251.8,206.0 L252.1,205.8 L252.4,205.1 L252.7,203.9 L253.1,202.3 L253.4,200.2 L253.7,197.7 L254.1,194.8 L254.4,191.5 L254.7,187.9 L255.1,183.9 L255.4,179.8 L255.7,175.4 L256.1,170.8 L256.4,166.1 L256.7,161.4 L257.1,156.6 L257.4,151.8 L257.7,147.1 L258.1,142.5 L258.4,138.1 L258.7,133.9 L259.1,129.9 L259.4,126.2 L259.7,122.8 L260.1,119.8 L260.4,117.2 L260.7,115.0 L261.1,113.3 L261.4,111.9 L261.7,111.1 L262.1,110.7 L262.4,110.8 L262.7,111.3 L263.1,112.4 L263.4,113.9 L263.7,115.8 L264.1,118.1 L264.4,120.8 L264.7,123.9 L265.1,127.4 L265.4,131.1 L265.7,135.1 L266.1,139.3 L266.4,143.7 L266.7,148.2 L267.1,152.8 L267.4,157.4 L267.7,162.1 L268.1,166.6 L268.4,171.1 L268.7,175.5 L269.1,179.6 L269.4,183.5 L269.7,187.2 L270.0,190.5 L270.4,193.5 L270.7,196.1 L271.0,198.4 L271.4,200.2 L271.7,201.6 L272.0,202.5 L272.4,203.0 L272.7,203.0 L273.0,202.6 L273.4,201.7 L273.7,200.4 L274.0,198.6 L274.4,196.5 L274.7,193.9 L275.0,191.0 L275.4,187.8 L275.7,184.2 L276.0,180.4 L276.4,176.4 L276.7,172.2 L277.0,167.8 L277.4,163.4 L277.7,158.9 L278.0,154.4 L278.4,149.9 L278.7,145.6 L279.0,141.3 L279.4,137.3 L279.7,133.4 L280.0,129.8 L280.4,126.5 L280.7,123.5 L281.0,120.9 L281.4,118.6 L281.7,116.7 L282.0,115.3 L282.4,114.3 L282.7,113.7 L283.0,113.5 L283.4,113.8 L283.7,114.6 L284.0,115.8 L284.4,117.4 L284.7,119.4 L285.0,121.7 L285.4,124.5 L285.7,127.6 L286.0,130.9 L286.3,134.5 L286.7,138.4 L287.0,142.4 L287.3,146.6 L287.7,150.9 L288.0,155.2 L288.3,159.6 L288.7,163.9 L289.0,168.2 L289.3,172.3 L289.7,176.3 L290.0,180.1 L290.3,183.7 L290.7,186.9 L291.0,189.9 L291.3,192.6 L291.7,194.9 L292.0,196.8 L292.3,198.3 L292.7,199.4 L293.0,200.1 L293.3,200.3 L293.7,200.1 L294.0,199.5 L294.3,198.5 L294.7,197.0 L295.0,195.2 L295.3,193.0 L295.7,190.4 L296.0,187.5 L296.3,184.3 L296.7,180.9 L297.0,177.2 L297.3,173.3 L297.7,169.3 L298.0,165.1 L298.3,160.9 L298.7,156.7 L299.0,152.5 L299.3,148.4 L299.7,144.3 L300.0,140.4 L300.3,136.7 L300.7,133.2 L301.0,129.9 L301.3,127.0 L301.7,124.3 L302.0,122.0 L302.3,120.1 L302.6,118.5 L303.0,117.3 L303.3,116.6 L303.6,116.2 L304.0,116.3 L304.3,116.8 L304.6,117.7 L305.0,119.0 L305.3,120.7 L305.6,122.8 L306.0,125.2 L306.3,127.9 L306.6,130.9 L307.0,134.2 L307.3,137.7 L307.6,141.4 L308.0,145.3 L308.3,149.3 L308.6,153.3 L309.0,157.4 L309.3,161.5 L309.6,165.5 L310.0,169.5 L310.3,173.3 L310.6,177.0 L311.0,180.4 L311.3,183.6 L311.6,186.6 L312.0,189.2 L312.3,191.6 L312.6,193.5 L313.0,195.1 L313.3,196.4 L313.6,197.2 L314.0,197.6 L314.3,197.7 L314.6,197.3 L315.0,196.5 L315.3,195.4 L315.6,193.8 L316.0,191.9 L316.3,189.6 L316.6,187.1 L317.0,184.2 L317.3,181.1 L317.6,177.7 L318.0,174.2 L318.3,170.5 L318.6,166.6 L318.9,162.7 L319.3,158.8 L319.6,154.8 L319.9,150.9 L320.3,147.0 L320.6,143.3 L320.9,139.7 L321.3,136.3 L321.6,133.1 L321.9,130.2 L322.3,127.6 L322.6,125.2 L322.9,123.2 L323.3,121.6 L323.6,120.3 L323.9,119.4 L324.3,118.9 L324.6,118.7 L324.9,119.0 L325.3,119.7 L325.6,120.7 L325.9,122.1 L326.3,123.9 L326.6,126.0 L326.9,128.4 L327.3,131.1 L327.6,134.0 L327.9,137.2 L328.3,140.6 L328.6,144.2 L328.9,147.9 L329.3,151.7 L329.6,155.5 L329.9,159.3 L330.3,163.2 L330.6,166.9 L330.9,170.6 L331.3,174.1 L331.6,177.4 L331.9,180.6 L332.3,183.5 L332.6,186.1 L332.9,188.4 L333.3,190.5 L333.6,192.1 L333.9,193.5 L334.3,194.4 L334.6,195.0 L334.9,195.3 L335.3,195.1 L335.6,194.6 L335.9,193.6 L336.2,192.4 L336.6,190.8 L336.9,188.8 L337.2,186.5 L337.6,184.0 L337.9,181.2 L338.2,178.1 L338.6,174.9 L338.9,171.5 L339.2,167.9 L339.6,164.3 L339.9,160.6 L340.2,156.8 L340.6,153.1 L340.9,149.5 L341.2,145.9 L341.6,142.5 L341.9,139.2 L342.2,136.1 L342.6,133.2 L342.9,130.6 L343.2,128.3 L343.6,126.2 L343.9,124.5 L344.2,123.1 L344.6,122.1 L344.9,121.4 L345.2,121.1 L345.6,121.2 L345.9,121.6 L346.2,122.4 L346.6,123.6 L346.9,125.0 L347.2,126.9 L347.6,129.0 L347.9,131.4 L348.2,134.1 L348.6,136.9 L348.9,140.0 L349.2,143.3 L349.6,146.7 L349.9,150.2 L350.2,153.8 L350.6,157.4 L350.9,161.0 L351.2,164.6 L351.6,168.1 L351.9,171.4 L352.2,174.7 L352.5,177.7 L352.9,180.6 L353.2,183.2 L353.5,185.5 L353.9,187.5 L354.2,189.3 L354.5,190.7 L354.9,191.8 L355.2,192.5 L355.5,192.9 L355.9,192.9 L356.2,192.6 L356.5,191.9 L356.9,190.9 L357.2,189.5 L357.5,187.9 L357.9,185.9 L358.2,183.6 L358.5,181.1 L358.9,178.3 L359.2,175.4 L359.5,172.3 L359.9,169.0 L360.2,165.6 L360.5,162.1 L360.9,158.7 L361.2,155.2 L361.5,151.7 L361.9,148.3 L362.2,145.0 L362.5,141.8 L362.9,138.8 L363.2,136.0 L363.5,133.5 L363.9,131.1 L364.2,129.1 L364.5,127.3 L364.9,125.8 L365.2,124.7 L365.5,123.9 L365.9,123.4 L366.2,123.3 L366.5,123.6 L366.9,124.1 L367.2,125.0 L367.5,126.3 L367.9,127.8 L368.2,129.7 L368.5,131.8 L368.9,134.2 L369.2,136.8 L369.5,139.6 L369.8,142.6 L370.2,145.8 L370.5,149.0 L370.8,152.3 L371.2,155.7 L371.5,159.1 L371.8,162.5 L372.2,165.8 L372.5,169.0 L372.8,172.1 L373.2,175.1 L373.5,177.8 L373.8,180.4 L374.2,182.7 L374.5,184.8 L374.8,186.6 L375.2,188.1 L375.5,189.2 L375.8,190.1 L376.2,190.6 L376.5,190.8 L376.8,190.7 L377.2,190.2 L377.5,189.4 L377.8,188.3 L378.2,186.8 L378.5,185.1 L378.8,183.1 L379.2,180.9 L379.5,178.4 L379.8,175.7 L380.2,172.9 L380.5,169.8 L380.8,166.7 L381.2,163.5 L381.5,160.2 L381.8,157.0 L382.2,153.7 L382.5,150.5 L382.8,147.3 L383.2,144.3 L383.5,141.4 L383.8,138.6 L384.2,136.1 L384.5,133.8 L384.8,131.7 L385.2,129.9 L385.5,128.4 L385.8,127.2 L386.1,126.3 L386.5,125.7 L386.8,125.4 L387.1,125.5 L387.5,125.9 L387.8,126.6 L388.1,127.6 L388.5,128.9 L388.8,130.5 L389.1,132.3 L389.5,134.5 L389.8,136.8 L390.1,139.4 L390.5,142.1 L390.8,145.0 L391.1,148.0 L391.5,151.1 L391.8,154.2 L392.1,157.4 L392.5,160.6 L392.8,163.7 L393.1,166.8 L393.5,169.8 L393.8,172.6 L394.1,175.3 L394.5,177.8 L394.8,180.1 L395.1,182.2 L395.5,184.0 L395.8,185.5 L396.1,186.8 L396.5,187.7 L396.8,188.4 L397.1,188.7 L397.5,188.8 L397.8,188.5 L398.1,187.9 L398.5,187.0 L398.8,185.8 L399.1,184.3 L399.5,182.5 L399.8,180.6 L400.1,178.3 L400.5,175.9 L400.8,173.3 L401.1,170.5 L401.5,167.7 L401.8,164.7 L402.1,161.6 L402.4,158.5 L402.8,155.5 L403.1,152.4 L403.4,149.4 L403.8,146.5 L404.1,143.7 L404.4,141.1 L404.8,138.6 L405.1,136.3 L405.4,134.3 L405.8,132.4 L406.1,130.9 L406.4,129.6 L406.8,128.6 L407.1,127.9 L407.4,127.5 L407.8,127.4 L408.1,127.6 L408.4,128.1 L408.8,128.9 L409.1,130.0 L409.4,131.3 L409.8,133.0 L410.1,134.8 L410.4,136.9 L410.8,139.3 L411.1,141.7 L411.4,144.4 L411.8,147.1 L412.1,150.0 L412.4,152.9 L412.8,155.9 L413.1,158.9 L413.4,161.9 L413.8,164.8 L414.1,167.7 L414.4,170.4 L414.8,173.0 L415.1,175.4 L415.4,177.7 L415.8,179.7 L416.1,181.6 L416.4,183.1 L416.8,184.5 L417.1,185.5 L417.4,186.3 L417.8,186.7 L418.1,186.9 L418.4,186.8 L418.8,186.4 L419.1,185.6 L419.4,184.7 L419.7,183.4 L420.1,181.9 L420.4,180.1 L420.7,178.1 L421.1,176.0 L421.4,173.6 L421.7,171.1 L422.1,168.4 L422.4,165.7 L422.7,162.8 L423.1,159.9 L423.4,157.0 L423.7,154.2 L424.1,151.3 L424.4,148.5 L424.7,145.9 L425.1,143.3 L425.4,140.9 L425.7,138.7 L426.1,136.6 L426.4,134.8 L426.7,133.2 L427.1,131.9 L427.4,130.8 L427.7,130.0 L428.1,129.5 L428.4,129.2 L428.7,129.3 L429.1,129.6 L429.4,130.2 L429.7,131.1 L430.1,132.3 L430.4,133.7 L430.7,135.3 L431.1,137.2 L431.4,139.3 L431.7,141.5 L432.1,143.9 L432.4,146.5 L432.7,149.1 L433.1,151.8 L433.4,154.6 L433.7,157.4 L434.1,160.2 L434.4,163.0 L434.7,165.7 L435.1,168.3 L435.4,170.8 L435.7,173.2 L436.0,175.4 L436.4,177.4 L436.7,179.3 L437.0,180.9 L437.4,182.2 L437.7,183.3 L438.0,184.2 L438.4,184.8 L438.7,185.1 L439.0,185.1 L439.4,184.8 L439.7,184.3 L440.0,183.5 L440.4,182.5 L440.7,181.2 L441.0,179.6 L441.4,177.9 L441.7,175.9 L442.0,173.8 L442.4,171.5 L442.7,169.0 L443.0,166.5 L443.4,163.9 L443.7,161.2 L444.0,158.5 L444.4,155.7 L444.7,153.0 L445.0,150.4 L445.4,147.8 L445.7,145.4 L446.0,143.0 L446.4,140.9 L446.7,138.8 L447.0,137.0 L447.4,135.4 L447.7,134.0 L448.0,132.9 L448.4,132.0 L448.7,131.4 L449.0,131.0 L449.4,130.9 L449.7,131.1 L450.0,131.6 L450.4,132.3 L450.7,133.2 L451.0,134.4 L451.4,135.9 L451.7,137.5 L452.0,139.4 L452.3,141.4 L452.7,143.6 L453.0,145.9 L453.3,148.4 L453.7,150.9 L454.0,153.5 L454.3,156.1 L454.7,158.7 L455.0,161.4 L455.3,163.9 L455.7,166.5 L456.0,168.9 L456.3,171.2 L456.7,173.3 L457.0,175.3 L457.3,177.1 L457.7,178.7 L458.0,180.1 L458.3,181.3 L458.7,182.2 L459.0,182.9 L459.3,183.3 L459.7,183.4 L460.0,183.3 L460.3,183.0 L460.7,182.3 L461.0,181.5 L461.3,180.4 L461.7,179.0 L462.0,177.5 L462.3,175.7 L462.7,173.8 L463.0,171.7 L463.3,169.5 L463.7,167.2 L464.0,164.7 L464.3,162.2 L464.7,159.7 L465.0,157.1 L465.3,154.6 L465.7,152.1 L466.0,149.6 L466.3,147.3 L466.7,145.0 L467.0,142.9 L467.3,140.9 L467.7,139.1 L468.0,137.5 L468.3,136.1 L468.7,134.9 L469.0,134.0 L469.3,133.3 L469.6,132.8 L470.0,132.6 L470.3,132.6 L470.6,132.9 L471.0,133.5 L471.3,134.2 L471.6,135.3 L472.0,136.5 L472.3,137.9 L472.6,139.6 L473.0,141.4 L473.3,143.4 L473.6,145.5 L474.0,147.8 L474.3,150.1 L474.6,152.5 L475.0,155.0 L475.3,157.4 L475.6,159.9 L476.0,162.3 L476.3,164.7 L476.6,167.1 L477.0,169.3 L477.3,171.4 L477.6,173.3 L478.0,175.1 L478.3,176.7 L478.6,178.1 L479.0,179.3 L479.3,180.3 L479.6,181.0 L480.0,181.5 L480.3,181.8 L480.6,181.8 L481.0,181.6 L481.3,181.2 L481.6,180.5 L482.0,179.5 L482.3,178.4 L482.6,177.0 L483.0,175.5 L483.3,173.7 L483.6,171.9 L484.0,169.8 L484.3,167.7 L484.6,165.4 L485.0,163.1 L485.3,160.8 L485.6,158.4 L485.9,156.0 L486.3,153.6 L486.6,151.3 L486.9,149.0 L487.3,146.8 L487.6,144.8 L487.9,142.8 L488.3,141.1 L488.6,139.5 L488.9,138.0 L489.3,136.8 L489.6,135.8 L489.9,135.0 L490.3,134.5 L490.6,134.2 L490.9,134.1 L491.3,134.2 L491.6,134.6 L491.9,135.3 L492.3,136.1 L492.6,137.2 L492.9,138.4 L493.3,139.9 L493.6,141.5 L493.9,143.3 L494.3,145.2 L494.6,147.3 L494.9,149.4 L495.3,151.7 L495.6,154.0 L495.9,156.3 L496.3,158.6 L496.6,160.9 L496.9,163.2 L497.3,165.4 L497.6,167.5 L497.9,169.5 L498.3,171.4 L498.6,173.2 L498.9,174.8 L499.3,176.2 L499.6,177.4 L499.9,178.5 L500.3,179.3 L500.6,179.9 L500.9,180.2 L501.3,180.4 L501.6,180.3 L501.9,180.0 L502.2,179.4 L502.6,178.7 L502.9,177.7 L503.2,176.5 L503.6,175.1 L503.9,173.6 L504.2,171.9 L504.6,170.1 L504.9,168.1 L505.2,166.0 L505.6,163.9 L505.9,161.7 L506.2,159.5 L506.6,157.2 L506.9,155.0 L507.2,152.7 L507.6,150.6 L507.9,148.5 L508.2,146.5 L508.6,144.6 L508.9,142.9 L509.2,141.3 L509.6,139.9 L509.9,138.6 L510.2,137.6 L510.6,136.8 L510.9,136.1 L511.2,135.7 L511.6,135.5 L511.9,135.6 L512.2,135.8 L512.6,136.3 L512.9,137.0 L513.2,137.9 L513.6,139.0 L513.9,140.3 L514.2,141.7 L514.6,143.3 L514.9,145.1 L515.2,146.9 L515.6,148.9 L515.9,151.0 L516.2,153.1 L516.6,155.3 L516.9,157.4 L517.2,159.6 L517.6,161.8 L517.9,163.9 L518.2,165.9 L518.5,167.9 L518.9,169.7 L519.2,171.4 L519.5,173.0 L519.9,174.4 L520.2,175.7 L520.5,176.7 L520.9,177.6 L521.2,178.3 L521.5,178.7 L521.9,179.0 L522.2,179.0 L522.5,178.8 L522.9,178.4 L523.2,177.8 L523.5,176.9 L523.9,175.9 L524.2,174.7 L524.5,173.4 L524.9,171.9 L525.2,170.2 L525.5,168.4 L525.9,166.5 L526.2,164.5 L526.5,162.5 L526.9,160.4 L527.2,158.3 L527.5,156.2 L527.9,154.1 L528.2,152.0 L528.5,150.0 L528.9,148.1 L529.2,146.3 L529.5,144.6 L529.9,143.0 L530.2,141.6 L530.5,140.4 L530.9,139.3 L531.2,138.4 L531.5,137.7 L531.9,137.2 L532.2,136.9 L532.5,136.9 L532.9,137.0 L533.2,137.3 L533.5,137.9 L533.9,138.6 L534.2,139.6 L534.5,140.7 L534.9,142.0 L535.2,143.4 L535.5,145.0 L535.8,146.7 L536.2,148.5 L536.5,150.4 L536.8,152.4 L537.2,154.4 L537.5,156.4 L537.8,158.5 L538.2,160.5 L538.5,162.5 L538.8,164.5 L539.2,166.3 L539.5,168.1 L539.8,169.8 L540.2,171.4 L540.5,172.8 L540.8,174.0 L541.2,175.1 L541.5,176.0 L541.8,176.7 L542.2,177.2 L542.5,177.6 L542.8,177.7 L543.2,177.6 L543.5,177.3" stroke="#F8682F" stroke-width="1.05"/>
<path d="M44.5,157.6 L44.8,157.6 L45.2,157.6 L45.5,157.6 L45.8,157.6 L46.2,157.6 L46.5,157.6 L46.8,157.6 L47.2,157.7 L47.5,157.7 L47.8,157.8 L48.2,157.9 L48.5,158.0 L48.8,158.1 L49.2,158.3 L49.5,158.5 L49.8,158.8 L50.2,159.1 L50.5,159.4 L50.8,159.8 L51.2,160.3 L51.5,160.8 L51.8,161.4 L52.2,162.0 L52.5,162.8 L52.8,163.5 L53.1,164.4 L53.5,165.3 L53.8,166.3 L54.1,167.3 L54.5,168.4 L54.8,169.6 L55.1,170.8 L55.5,172.0 L55.8,173.3 L56.1,174.7 L56.5,176.1 L56.8,177.5 L57.1,178.9 L57.5,180.4 L57.8,181.8 L58.1,183.3 L58.5,184.7 L58.8,186.1 L59.1,187.5 L59.5,188.8 L59.8,190.1 L60.1,191.4 L60.5,192.5 L60.8,193.6 L61.1,194.7 L61.5,195.6 L61.8,196.4 L62.1,197.1 L62.5,197.7 L62.8,198.2 L63.1,198.6 L63.5,198.9 L63.8,199.0 L64.1,199.0 L64.5,198.8 L64.8,198.6 L65.1,198.2 L65.5,197.7 L65.8,197.0 L66.1,196.3 L66.5,195.5 L66.8,194.6 L67.1,193.6 L67.5,192.5 L67.8,191.4 L68.1,190.2 L68.5,189.0 L68.8,187.7 L69.1,186.5 L69.5,185.2 L69.8,184.0 L70.1,182.7 L70.4,181.6 L70.8,180.4 L71.1,179.4 L71.4,178.4 L71.8,177.4 L72.1,176.6 L72.4,175.9 L72.8,175.3 L73.1,174.8 L73.4,174.4 L73.8,174.1 L74.1,174.0 L74.4,173.9 L74.8,174.0 L75.1,174.3 L75.4,174.6 L75.8,175.1 L76.1,175.6 L76.4,176.3 L76.8,177.1 L77.1,178.0 L77.4,178.9 L77.8,179.9 L78.1,181.0 L78.4,182.2 L78.8,183.3 L79.1,184.5 L79.4,185.8 L79.8,187.0 L80.1,188.2 L80.4,189.4 L80.8,190.5 L81.1,191.6 L81.4,192.7 L81.8,193.7 L82.1,194.6 L82.4,195.4 L82.8,196.1 L83.1,196.8 L83.4,197.3 L83.8,197.7 L84.1,198.0 L84.4,198.2 L84.8,198.2 L85.1,198.1 L85.4,198.0 L85.8,197.6 L86.1,197.2 L86.4,196.7 L86.7,196.1 L87.1,195.3 L87.4,194.5 L87.7,193.6 L88.1,192.6 L88.4,191.6 L88.7,190.5 L89.1,189.3 L89.4,188.1 L89.7,186.8 L90.1,185.6 L90.4,184.3 L90.7,183.0 L91.1,181.7 L91.4,180.4 L91.7,179.1 L92.1,177.8 L92.4,176.6 L92.7,175.3 L93.1,174.1 L93.4,173.0 L93.7,171.9 L94.1,170.8 L94.4,169.8 L94.7,168.8 L95.1,167.9 L95.4,167.0 L95.7,166.2 L96.1,165.4 L96.4,164.7 L96.7,164.1 L97.1,163.4 L97.4,162.9 L97.7,162.3 L98.1,161.8 L98.4,161.4 L98.7,161.0 L99.1,160.6 L99.4,160.2 L99.7,159.9 L100.1,159.6 L100.4,159.3 L100.7,159.0 L101.1,158.7 L101.4,158.5 L101.7,158.3 L102.1,158.0 L102.4,157.8 L102.7,157.6 L103.0,157.4 L103.4,157.2 L103.7,157.0 L104.0,156.9 L104.4,156.7 L104.7,156.5 L105.0,156.4 L105.4,156.2 L105.7,156.1 L106.0,156.0 L106.4,155.9 L106.7,155.8 L107.0,155.7 L107.4,155.7 L107.7,155.7 L108.0,155.7 L108.4,155.7 L108.7,155.7 L109.0,155.8 L109.4,155.9 L109.7,156.0 L110.0,156.1 L110.4,156.2 L110.7,156.3 L111.0,156.5 L111.4,156.6 L111.7,156.8 L112.0,157.0 L112.4,157.2 L112.7,157.4 L113.0,157.5 L113.4,157.7 L113.7,157.9 L114.0,158.1 L114.4,158.3 L114.7,158.5 L115.0,158.6 L115.4,158.8 L115.7,158.9 L116.0,159.0 L116.4,159.1 L116.7,159.2 L117.0,159.3 L117.4,159.4 L117.7,159.4 L118.0,159.5 L118.4,159.5 L118.7,159.4 L119.0,159.4 L119.4,159.4 L119.7,159.3 L120.0,159.2 L120.3,159.1 L120.7,159.0 L121.0,158.9 L121.3,158.7 L121.7,158.6 L122.0,158.4 L122.3,158.2 L122.7,158.1 L123.0,157.9 L123.3,157.7 L123.7,157.5 L124.0,157.3 L124.3,157.2 L124.7,157.0 L125.0,156.8 L125.3,156.7 L125.7,156.5 L126.0,156.4 L126.3,156.2 L126.7,156.1 L127.0,156.0 L127.3,156.0 L127.7,155.9 L128.0,155.8 L128.3,155.8 L128.7,155.8 L129.0,155.8 L129.3,155.8 L129.7,155.9 L130.0,155.9 L130.3,156.0 L130.7,156.1 L131.0,156.2 L131.3,156.3 L131.7,156.5 L132.0,156.6 L132.3,156.8 L132.7,156.9 L133.0,157.1 L133.3,157.3 L133.7,157.5 L134.0,157.6 L134.3,157.8 L134.7,158.0 L135.0,158.2 L135.3,158.3 L135.7,158.5 L136.0,158.6 L136.3,158.8 L136.6,158.9 L137.0,159.0 L137.3,159.1 L137.6,159.2 L138.0,159.2 L138.3,159.3 L138.6,159.3 L139.0,159.3 L139.3,159.3 L139.6,159.3 L140.0,159.3 L140.3,159.2 L140.6,159.2 L141.0,159.1 L141.3,159.0 L141.6,158.9 L142.0,158.7 L142.3,158.6 L142.6,158.4 L143.0,158.3 L143.3,158.1 L143.6,158.0 L144.0,157.8 L144.3,157.6 L144.6,157.4 L145.0,157.3 L145.3,157.1 L145.6,156.9 L146.0,156.8 L146.3,156.6 L146.6,156.5 L147.0,156.4 L147.3,156.3 L147.6,156.2 L148.0,156.1 L148.3,156.0 L148.6,156.0 L149.0,155.9 L149.3,155.9 L149.6,155.9 L150.0,155.9 L150.3,156.0 L150.6,156.0 L151.0,156.1 L151.3,156.2 L151.6,156.2 L152.0,156.4 L152.3,156.5 L152.6,156.6 L152.9,156.7 L153.3,156.9 L153.6,157.1 L153.9,157.2 L154.3,157.4 L154.6,157.5 L154.9,157.7 L155.3,157.9 L155.6,158.0 L155.9,158.2 L156.3,158.4 L156.6,158.5 L156.9,158.6 L157.3,158.8 L157.6,158.9 L157.9,159.0 L158.3,159.0 L158.6,159.1 L158.9,159.2 L159.3,159.2 L159.6,159.2 L159.9,159.2 L160.3,159.2 L160.6,159.2 L160.9,159.2 L161.3,159.1 L161.6,159.0 L161.9,158.9 L162.3,158.8 L162.6,158.7 L162.9,158.6 L163.3,158.5 L163.6,158.3 L163.9,158.2 L164.3,158.0 L164.6,157.9 L164.9,157.7 L165.3,157.5 L165.6,157.4 L165.9,157.2 L166.3,157.1 L166.6,156.9 L166.9,156.8 L167.3,156.6 L167.6,156.5 L167.9,156.4 L168.3,156.3 L168.6,156.2 L168.9,156.1 L169.2,156.1 L169.6,156.0 L169.9,156.0 L170.2,156.0 L170.6,156.0 L170.9,156.0 L171.2,156.1 L171.6,156.1 L171.9,156.2 L172.2,156.3 L172.6,156.4 L172.9,156.5 L173.2,156.6 L173.6,156.7 L173.9,156.9 L174.2,157.0 L174.6,157.2 L174.9,157.3 L175.2,157.5 L175.6,157.6 L175.9,157.8 L176.2,157.9 L176.6,158.1 L176.9,158.2 L177.2,158.4 L177.6,158.5 L177.9,158.6 L178.2,158.7 L178.6,158.8 L178.9,158.9 L179.2,159.0 L179.6,159.1 L179.9,159.1 L180.2,159.1 L180.6,159.1 L180.9,159.1 L181.2,159.1 L181.6,159.1 L181.9,159.0 L182.2,159.0 L182.6,158.9 L182.9,158.8 L183.2,158.7 L183.6,158.6 L183.9,158.5 L184.2,158.3 L184.6,158.2 L184.9,158.1 L185.2,157.9 L185.6,157.8 L185.9,157.6 L186.2,157.5 L186.5,157.3 L186.9,157.2 L187.2,157.0 L187.5,156.9 L187.9,156.8 L188.2,156.6 L188.5,156.5 L188.9,156.4 L189.2,156.3 L189.5,156.3 L189.9,156.2 L190.2,156.2 L190.5,156.1 L190.9,156.1 L191.2,156.1 L191.5,156.1 L191.9,156.2 L192.2,156.2 L192.5,156.3 L192.9,156.3 L193.2,156.4 L193.5,156.5 L193.9,156.6 L194.2,156.7 L194.5,156.8 L194.9,157.0 L195.2,157.1 L195.5,157.3 L195.9,157.4 L196.2,157.6 L196.5,157.7 L196.9,157.8 L197.2,158.0 L197.5,158.1 L197.9,158.3 L198.2,158.4 L198.5,158.5 L198.9,158.6 L199.2,158.7 L199.5,158.8 L199.9,158.9 L200.2,158.9 L200.5,159.0 L200.9,159.0 L201.2,159.0 L201.5,159.0 L201.9,159.0 L202.2,159.0 L202.5,158.9 L202.8,158.8 L203.2,158.7 L203.5,158.5 L203.8,158.4 L204.2,158.1 L204.5,157.9 L204.8,157.5 L205.2,157.2 L205.5,156.8 L205.8,156.3 L206.2,155.8 L206.5,155.2 L206.8,154.6 L207.2,153.9 L207.5,153.1 L207.8,152.3 L208.2,151.5 L208.5,150.5 L208.8,149.5 L209.2,148.5 L209.5,147.4 L209.8,146.2 L210.2,145.0 L210.5,143.8 L210.8,142.5 L211.2,141.2 L211.5,139.8 L211.8,138.4 L212.2,137.0 L212.5,135.6 L212.8,134.2 L213.2,132.8 L213.5,131.4 L213.8,130.1 L214.2,128.7 L214.5,127.4 L214.8,126.2 L215.2,124.9 L215.5,123.8 L215.8,122.7 L216.2,121.7 L216.5,120.8 L216.8,120.0 L217.2,119.2 L217.5,118.6 L217.8,118.0 L218.2,117.6 L218.5,117.3 L218.8,117.1 L219.2,117.1 L219.5,117.1 L219.8,117.3 L220.1,117.6 L220.5,118.0 L220.8,118.5 L221.1,119.1 L221.5,119.8 L221.8,120.6 L222.1,121.5 L222.5,122.5 L222.8,123.5 L223.1,124.6 L223.5,125.7 L223.8,126.8 L224.1,128.0 L224.5,129.2 L224.8,130.4 L225.1,131.5 L225.5,132.6 L225.8,133.7 L226.1,134.8 L226.5,135.7 L226.8,136.6 L227.1,137.5 L227.5,138.2 L227.8,138.8 L228.1,139.4 L228.5,139.8 L228.8,140.1 L229.1,140.3 L229.5,140.4 L229.8,140.4 L230.1,140.3 L230.5,140.0 L230.8,139.7 L231.1,139.2 L231.5,138.6 L231.8,138.0 L232.1,137.2 L232.5,136.4 L232.8,135.4 L233.1,134.5 L233.5,133.4 L233.8,132.4 L234.1,131.3 L234.5,130.1 L234.8,129.0 L235.1,127.9 L235.5,126.7 L235.8,125.6 L236.1,124.6 L236.4,123.6 L236.8,122.6 L237.1,121.7 L237.4,120.9 L237.8,120.1 L238.1,119.5 L238.4,118.9 L238.8,118.5 L239.1,118.2 L239.4,117.9 L239.8,117.8 L240.1,117.8 L240.4,117.9 L240.8,118.1 L241.1,118.4 L241.4,118.9 L241.8,119.4 L242.1,120.0 L242.4,120.7 L242.8,121.5 L243.1,122.4 L243.4,123.3 L243.8,124.3 L244.1,125.4 L244.4,126.5 L244.8,127.6 L245.1,128.8 L245.4,130.0 L245.8,131.1 L246.1,132.3 L246.4,133.5 L246.8,134.7 L247.1,135.9 L247.4,137.1 L247.8,138.2 L248.1,139.3 L248.4,140.4 L248.8,141.5 L249.1,142.5 L249.4,143.4 L249.8,144.4 L250.1,145.3 L250.4,146.1 L250.8,146.9 L251.1,147.7 L251.4,148.4 L251.8,149.1 L252.1,149.7 L252.4,150.3 L252.7,150.9 L253.1,151.4 L253.4,151.9 L253.7,152.4 L254.1,152.8 L254.4,153.3 L254.7,153.7 L255.1,154.1 L255.4,154.5 L255.7,154.8 L256.1,155.2 L256.4,155.5 L256.7,155.9 L257.1,156.2 L257.4,156.6 L257.7,156.9 L258.1,157.2 L258.4,157.6 L258.7,157.9 L259.1,158.2 L259.4,158.5 L259.7,158.8 L260.1,159.1 L260.4,159.4 L260.7,159.6 L261.1,159.8 L261.4,160.0 L261.7,160.2 L262.1,160.4 L262.4,160.5 L262.7,160.6 L263.1,160.7 L263.4,160.7 L263.7,160.7 L264.1,160.7 L264.4,160.6 L264.7,160.5 L265.1,160.4 L265.4,160.3 L265.7,160.1 L266.1,159.9 L266.4,159.7 L266.7,159.4 L267.1,159.2 L267.4,158.9 L267.7,158.6 L268.1,158.3 L268.4,158.0 L268.7,157.7 L269.1,157.4 L269.4,157.1 L269.7,156.8 L270.0,156.5 L270.4,156.2 L270.7,156.0 L271.0,155.7 L271.4,155.5 L271.7,155.3 L272.0,155.1 L272.4,154.9 L272.7,154.8 L273.0,154.7 L273.4,154.6 L273.7,154.6 L274.0,154.6 L274.4,154.6 L274.7,154.7 L275.0,154.7 L275.4,154.9 L275.7,155.0 L276.0,155.1 L276.4,155.3 L276.7,155.5 L277.0,155.8 L277.4,156.0 L277.7,156.3 L278.0,156.6 L278.4,156.8 L278.7,157.1 L279.0,157.4 L279.4,157.7 L279.7,158.0 L280.0,158.3 L280.4,158.6 L280.7,158.9 L281.0,159.1 L281.4,159.4 L281.7,159.6 L282.0,159.8 L282.4,160.0 L282.7,160.1 L283.0,160.3 L283.4,160.4 L283.7,160.5 L284.0,160.5 L284.4,160.5 L284.7,160.5 L285.0,160.5 L285.4,160.4 L285.7,160.3 L286.0,160.2 L286.3,160.0 L286.7,159.8 L287.0,159.6 L287.3,159.4 L287.7,159.2 L288.0,158.9 L288.3,158.7 L288.7,158.4 L289.0,158.1 L289.3,157.8 L289.7,157.5 L290.0,157.3 L290.3,157.0 L290.7,156.7 L291.0,156.4 L291.3,156.2 L291.7,155.9 L292.0,155.7 L292.3,155.5 L292.7,155.3 L293.0,155.2 L293.3,155.0 L293.7,154.9 L294.0,154.9 L294.3,154.8 L294.7,154.8 L295.0,154.8 L295.3,154.8 L295.7,154.9 L296.0,155.0 L296.3,155.1 L296.7,155.2 L297.0,155.4 L297.3,155.6 L297.7,155.8 L298.0,156.0 L298.3,156.2 L298.7,156.5 L299.0,156.8 L299.3,157.0 L299.7,157.3 L300.0,157.6 L300.3,157.9 L300.7,158.1 L301.0,158.4 L301.3,158.7 L301.7,158.9 L302.0,159.2 L302.3,159.4 L302.6,159.6 L303.0,159.8 L303.3,159.9 L303.6,160.1 L304.0,160.2 L304.3,160.2 L304.6,160.3 L305.0,160.3 L305.3,160.3 L305.6,160.3 L306.0,160.3 L306.3,160.2 L306.6,160.1 L307.0,159.9 L307.3,159.8 L307.6,159.6 L308.0,159.4 L308.3,159.2 L308.6,159.0 L309.0,158.7 L309.3,158.5 L309.6,158.2 L310.0,158.0 L310.3,157.7 L310.6,157.4 L311.0,157.1 L311.3,156.9 L311.6,156.6 L312.0,156.4 L312.3,156.1 L312.6,155.9 L313.0,155.7 L313.3,155.6 L313.6,155.4 L314.0,155.3 L314.3,155.1 L314.6,155.1 L315.0,155.0 L315.3,155.0 L315.6,154.9 L316.0,155.0 L316.3,155.0 L316.6,155.1 L317.0,155.2 L317.3,155.3 L317.6,155.4 L318.0,155.6 L318.3,155.8 L318.6,156.0 L318.9,156.2 L319.3,156.4 L319.6,156.7 L319.9,156.9 L320.3,157.2 L320.6,157.5 L320.9,157.7 L321.3,158.0 L321.6,158.2 L321.9,158.5 L322.3,158.7 L322.6,159.0 L322.9,159.2 L323.3,159.4 L323.6,159.5 L323.9,159.7 L324.3,159.8 L324.6,160.0 L324.9,160.0 L325.3,160.1 L325.6,160.2 L325.9,160.2 L326.3,160.2 L326.6,160.1 L326.9,160.1 L327.3,160.0 L327.6,159.9 L327.9,159.7 L328.3,159.6 L328.6,159.4 L328.9,159.2 L329.3,159.0 L329.6,158.8 L329.9,158.5 L330.3,158.3 L330.6,158.1 L330.9,157.8 L331.3,157.6 L331.6,157.3 L331.9,157.0 L332.3,156.8 L332.6,156.6 L332.9,156.3 L333.3,156.1 L333.6,155.9 L333.9,155.8 L334.3,155.6 L334.6,155.5 L334.9,155.3 L335.3,155.2 L335.6,155.2 L335.9,155.1 L336.2,155.1 L336.6,155.1 L336.9,155.1 L337.2,155.2 L337.6,155.3 L337.9,155.4 L338.2,155.5 L338.6,155.6 L338.9,155.8 L339.2,156.0 L339.6,156.2 L339.9,156.4 L340.2,156.6 L340.6,156.9 L340.9,157.1 L341.2,157.3 L341.6,157.6 L341.9,157.8 L342.2,158.1 L342.6,158.3 L342.9,158.5 L343.2,158.8 L343.6,159.0 L343.9,159.2 L344.2,159.3 L344.6,159.5 L344.9,159.6 L345.2,159.8 L345.6,159.9 L345.9,159.9 L346.2,160.0 L346.6,160.0 L346.9,160.0 L347.2,160.0 L347.6,159.9 L347.9,159.9 L348.2,159.8 L348.6,159.7 L348.9,159.5 L349.2,159.4 L349.6,159.2 L349.9,159.0 L350.2,158.8 L350.6,158.6 L350.9,158.4 L351.2,158.1 L351.6,157.9 L351.9,157.7 L352.2,157.4 L352.5,157.2 L352.9,157.0 L353.2,156.7 L353.5,156.5 L353.9,156.3 L354.2,156.1 L354.5,156.0 L354.9,155.8 L355.2,155.7 L355.5,155.5 L355.9,155.4 L356.2,155.4 L356.5,155.3 L356.9,155.3 L357.2,155.3 L357.5,155.3 L357.9,155.3 L358.2,155.4 L358.5,155.5 L358.9,155.6 L359.2,155.7 L359.5,155.8 L359.9,156.0 L360.2,156.2 L360.5,156.4 L360.9,156.6 L361.2,156.8 L361.5,157.0 L361.9,157.2 L362.2,157.5 L362.5,157.7 L362.9,157.9 L363.2,158.2 L363.5,158.4 L363.9,158.6 L364.2,158.8 L364.5,159.0 L364.9,159.2 L365.2,159.3 L365.5,159.5 L365.9,159.6 L366.2,159.7 L366.5,159.8 L366.9,159.8 L367.2,159.9 L367.5,159.9 L367.9,159.9 L368.2,159.8 L368.5,159.8 L368.9,159.7 L369.2,159.6 L369.5,159.5 L369.8,159.3 L370.2,159.2 L370.5,159.0 L370.8,158.8 L371.2,158.6 L371.5,158.4 L371.8,158.2 L372.2,158.0 L372.5,157.8 L372.8,157.6 L373.2,157.3 L373.5,157.1 L373.8,156.9 L374.2,156.7 L374.5,156.5 L374.8,156.3 L375.2,156.1 L375.5,156.0 L375.8,155.8 L376.2,155.7 L376.5,155.6 L376.8,155.5 L377.2,155.5 L377.5,155.4 L377.8,155.4 L378.2,155.4 L378.5,155.4 L378.8,155.5 L379.2,155.5 L379.5,155.6 L379.8,155.7 L380.2,155.9 L380.5,156.0 L380.8,156.2 L381.2,156.4 L381.5,156.5 L381.8,156.7 L382.2,156.9 L382.5,157.2 L382.8,157.4 L383.2,157.6 L383.5,157.8 L383.8,158.0 L384.2,158.2 L384.5,158.4 L384.8,158.6 L385.2,158.8 L385.5,159.0 L385.8,159.1 L386.1,159.3 L386.5,159.4 L386.8,159.5 L387.1,159.6 L387.5,159.7 L387.8,159.7 L388.1,159.7 L388.5,159.7 L388.8,159.7 L389.1,159.7 L389.5,159.6 L389.8,159.5 L390.1,159.4 L390.5,159.3 L390.8,159.2 L391.1,159.0 L391.5,158.9 L391.8,158.7 L392.1,158.5 L392.5,158.3 L392.8,158.1 L393.1,157.9 L393.5,157.7 L393.8,157.5 L394.1,157.2 L394.5,157.0 L394.8,156.8 L395.1,156.7 L395.5,156.5 L395.8,156.3 L396.1,156.1 L396.5,156.0 L396.8,155.9 L397.1,155.8 L397.5,155.7 L397.8,155.6 L398.1,155.6 L398.5,155.5 L398.8,155.5 L399.1,155.5 L399.5,155.6 L399.8,155.6 L400.1,155.7 L400.5,155.8 L400.8,155.9 L401.1,156.0 L401.5,156.2 L401.8,156.3 L402.1,156.5 L402.4,156.7 L402.8,156.9 L403.1,157.1 L403.4,157.3 L403.8,157.5 L404.1,157.7 L404.4,157.9 L404.8,158.1 L405.1,158.3 L405.4,158.5 L405.8,158.6 L406.1,158.8 L406.4,159.0 L406.8,159.1 L407.1,159.2 L407.4,159.3 L407.8,159.4 L408.1,159.5 L408.4,159.6 L408.8,159.6 L409.1,159.6 L409.4,159.6 L409.8,159.6 L410.1,159.5 L410.4,159.4 L410.8,159.4 L411.1,159.3 L411.4,159.1 L411.8,159.0 L412.1,158.9 L412.4,158.7 L412.8,158.5 L413.1,158.3 L413.4,158.2 L413.8,158.0 L414.1,157.8 L414.4,157.6 L414.8,157.4 L415.1,157.2 L415.4,157.0 L415.8,156.8 L416.1,156.6 L416.4,156.5 L416.8,156.3 L417.1,156.2 L417.4,156.0 L417.8,155.9 L418.1,155.8 L418.4,155.8 L418.8,155.7 L419.1,155.7 L419.4,155.7 L419.7,155.7 L420.1,155.7 L420.4,155.7 L420.7,155.8 L421.1,155.9 L421.4,156.0 L421.7,156.1 L422.1,156.2 L422.4,156.3 L422.7,156.5 L423.1,156.7 L423.4,156.8 L423.7,157.0 L424.1,157.2 L424.4,157.4 L424.7,157.6 L425.1,157.8 L425.4,158.0 L425.7,158.2 L426.1,158.3 L426.4,158.5 L426.7,158.7 L427.1,158.8 L427.4,159.0 L427.7,159.1 L428.1,159.2 L428.4,159.3 L428.7,159.4 L429.1,159.4 L429.4,159.5 L429.7,159.5 L430.1,159.5 L430.4,159.5 L430.7,159.4 L431.1,159.4 L431.4,159.3 L431.7,159.2 L432.1,159.1 L432.4,159.0 L432.7,158.9 L433.1,158.7 L433.4,158.5 L433.7,158.4 L434.1,158.2 L434.4,158.0 L434.7,157.8 L435.1,157.7 L435.4,157.5 L435.7,157.3 L436.0,157.1 L436.4,156.9 L436.7,156.8 L437.0,156.6 L437.4,156.5 L437.7,156.3 L438.0,156.2 L438.4,156.1 L438.7,156.0 L439.0,155.9 L439.4,155.9 L439.7,155.8 L440.0,155.8 L440.4,155.8 L440.7,155.8 L441.0,155.8 L441.4,155.9 L441.7,155.9 L442.0,156.0 L442.4,156.1 L442.7,156.2 L443.0,156.4 L443.4,156.5 L443.7,156.6 L444.0,156.8 L444.4,157.0 L444.7,157.1 L445.0,157.3 L445.4,157.5 L445.7,157.7 L446.0,157.9 L446.4,158.0 L446.7,158.2 L447.0,158.4 L447.4,158.5 L447.7,158.7 L448.0,158.8 L448.4,158.9 L448.7,159.0 L449.0,159.1 L449.4,159.2 L449.7,159.3 L450.0,159.3 L450.4,159.4 L450.7,159.4 L451.0,159.4 L451.4,159.3 L451.7,159.3 L452.0,159.2 L452.3,159.2 L452.7,159.1 L453.0,159.0 L453.3,158.8 L453.7,158.7 L454.0,158.6 L454.3,158.4 L454.7,158.3 L455.0,158.1 L455.3,157.9 L455.7,157.7 L456.0,157.6 L456.3,157.4 L456.7,157.2 L457.0,157.1 L457.3,156.9 L457.7,156.7 L458.0,156.6 L458.3,156.5 L458.7,156.3 L459.0,156.2 L459.3,156.1 L459.7,156.1 L460.0,156.0 L460.3,155.9 L460.7,155.9 L461.0,155.9 L461.3,155.9 L461.7,155.9 L462.0,156.0 L462.3,156.0 L462.7,156.1 L463.0,156.2 L463.3,156.3 L463.7,156.4 L464.0,156.5 L464.3,156.6 L464.7,156.8 L465.0,156.9 L465.3,157.1 L465.7,157.3 L466.0,157.4 L466.3,157.6 L466.7,157.8 L467.0,157.9 L467.3,158.1 L467.7,158.2 L468.0,158.4 L468.3,158.5 L468.7,158.7 L469.0,158.8 L469.3,158.9 L469.6,159.0 L470.0,159.1 L470.3,159.1 L470.6,159.2 L471.0,159.2 L471.3,159.3 L471.6,159.3 L472.0,159.2 L472.3,159.2 L472.6,159.2 L473.0,159.1 L473.3,159.0 L473.6,158.9 L474.0,158.8 L474.3,158.7 L474.6,158.6 L475.0,158.4 L475.3,158.3 L475.6,158.1 L476.0,158.0 L476.3,157.8 L476.6,157.7 L477.0,157.5 L477.3,157.3 L477.6,157.2 L478.0,157.0 L478.3,156.9 L478.6,156.7 L479.0,156.6 L479.3,156.5 L479.6,156.4 L480.0,156.3 L480.3,156.2 L480.6,156.1 L481.0,156.1 L481.3,156.0 L481.6,156.0 L482.0,156.0 L482.3,156.0 L482.6,156.0 L483.0,156.1 L483.3,156.1 L483.6,156.2 L484.0,156.3 L484.3,156.4 L484.6,156.5 L485.0,156.6 L485.3,156.8 L485.6,156.9 L485.9,157.0 L486.3,157.2 L486.6,157.3 L486.9,157.5 L487.3,157.7 L487.6,157.8 L487.9,158.0 L488.3,158.1 L488.6,158.3 L488.9,158.4 L489.3,158.5 L489.6,158.7 L489.9,158.8 L490.3,158.9 L490.6,159.0 L490.9,159.0 L491.3,159.1 L491.6,159.1 L491.9,159.1 L492.3,159.2 L492.6,159.1 L492.9,159.1 L493.3,159.1 L493.6,159.0 L493.9,159.0 L494.3,158.9 L494.6,158.8 L494.9,158.7 L495.3,158.6 L495.6,158.5 L495.9,158.3 L496.3,158.2 L496.6,158.0 L496.9,157.9 L497.3,157.7 L497.6,157.6 L497.9,157.4 L498.3,157.3 L498.6,157.1 L498.9,157.0 L499.3,156.8 L499.6,156.7 L499.9,156.6 L500.3,156.5 L500.6,156.4 L500.9,156.3 L501.3,156.2 L501.6,156.2 L501.9,156.1 L502.2,156.1 L502.6,156.1 L502.9,156.1 L503.2,156.1 L503.6,156.1 L503.9,156.2 L504.2,156.3 L504.6,156.3 L504.9,156.4 L505.2,156.5 L505.6,156.6 L505.9,156.7 L506.2,156.9 L506.6,157.0 L506.9,157.1 L507.2,157.3 L507.6,157.4 L507.9,157.6 L508.2,157.7 L508.6,157.9 L508.9,158.0 L509.2,158.2 L509.6,158.3 L509.9,158.4 L510.2,158.5 L510.6,158.7 L510.9,158.7 L511.2,158.8 L511.6,158.9 L511.9,159.0 L512.2,159.0 L512.6,159.0 L512.9,159.1 L513.2,159.1 L513.6,159.0 L513.9,159.0 L514.2,159.0 L514.6,158.9 L514.9,158.9 L515.2,158.8 L515.6,158.7 L515.9,158.6 L516.2,158.5 L516.6,158.3 L516.9,158.2 L517.2,158.1 L517.6,157.9 L517.9,157.8 L518.2,157.6 L518.5,157.5 L518.9,157.4 L519.2,157.2 L519.5,157.1 L519.9,157.0 L520.2,156.8 L520.5,156.7 L520.9,156.6 L521.2,156.5 L521.5,156.4 L521.9,156.4 L522.2,156.3 L522.5,156.2 L522.9,156.2 L523.2,156.2 L523.5,156.2 L523.9,156.2 L524.2,156.2 L524.5,156.3 L524.9,156.3 L525.2,156.4 L525.5,156.4 L525.9,156.5 L526.2,156.6 L526.5,156.7 L526.9,156.9 L527.2,157.0 L527.5,157.1 L527.9,157.2 L528.2,157.4 L528.5,157.5 L528.9,157.7 L529.2,157.8 L529.5,157.9 L529.9,158.1 L530.2,158.2 L530.5,158.3 L530.9,158.4 L531.2,158.5 L531.5,158.6 L531.9,158.7 L532.2,158.8 L532.5,158.9 L532.9,158.9 L533.2,158.9 L533.5,159.0 L533.9,159.0 L534.2,159.0 L534.5,158.9 L534.9,158.9 L535.2,158.9 L535.5,158.8 L535.8,158.7 L536.2,158.7 L536.5,158.6 L536.8,158.5 L537.2,158.4 L537.5,158.2 L537.8,158.1 L538.2,158.0 L538.5,157.8 L538.8,157.7 L539.2,157.6 L539.5,157.4 L539.8,157.3 L540.2,157.2 L540.5,157.1 L540.8,156.9 L541.2,156.8 L541.5,156.7 L541.8,156.6 L542.2,156.5 L542.5,156.5 L542.8,156.4 L543.2,156.3 L543.5,156.3" stroke="#68B232" stroke-width="1.1"/>
<path d="M233.6,153.6H244.4M233.6,161.6H244.4" stroke="#1F7FCF" stroke-width="0.7" stroke-dasharray="1.2 2.2" opacity="0.85"/>
<path d="M244.4,153.6H250.8M244.4,161.6H250.8" stroke="#F7BB35" stroke-width="0.7" stroke-dasharray="1.2 2.2" opacity="0.85"/>
<path d="M250.8,153.6H259.1M250.8,161.6H259.1" stroke="#F8682F" stroke-width="0.7" stroke-dasharray="1.2 2.2" opacity="0.85"/>
<path d="M259.1,153.6H543.5M259.1,161.6H543.5" stroke="#9fb09a" stroke-width="0.7" stroke-dasharray="1.2 2.2" opacity="0.85"/>
<path d="M233.6,47.0V268.2" stroke="#1F7FCF" stroke-width="0.8" stroke-dasharray="1 1.5"/>
<path d="M244.4,47.0V268.2" stroke="#F7BB35" stroke-width="0.8" stroke-dasharray="1 1.5"/>
<path d="M250.8,47.0V268.2" stroke="#F8682F" stroke-width="0.8" stroke-dasharray="1 1.5"/>
<path d="M259.1,47.0V268.2" stroke="#68B232" stroke-width="0.8" stroke-dasharray="1 1.5"/>
</g>
<path d="M44.50,268.2v-5M44.50,47.0v5M127.67,268.2v-5M127.67,47.0v5M210.83,268.2v-5M210.83,47.0v5M294.00,268.2v-5M294.00,47.0v5M377.17,268.2v-5M377.17,47.0v5M460.33,268.2v-5M460.33,47.0v5M543.50,268.2v-5M543.50,47.0v5M44.5,246.08h5M543.5,246.08h-5M44.5,201.84h5M543.5,201.84h-5M44.5,157.60h5M543.5,157.60h-5M44.5,113.36h5M543.5,113.36h-5M44.5,69.12h5M543.5,69.12h-5" stroke="#555" stroke-width="0.7" fill="none"/>
<rect x="44.5" y="47.0" width="499.0" height="221.2" fill="none" stroke="#666" stroke-width="0.85"/>
<g font-family="'Liberation Serif', 'DejaVu Serif', serif" font-size="12" fill="#1a1a1a">
<text x="44.5" y="283.6" text-anchor="middle">0</text>
<text x="120.4" y="283.6" textLength="14.5" lengthAdjust="spacingAndGlyphs">0.5</text>
<text x="210.8" y="283.6" text-anchor="middle">1</text>
<text x="286.8" y="283.6" textLength="14.5" lengthAdjust="spacingAndGlyphs">1.5</text>
<text x="377.2" y="283.6" text-anchor="middle">2</text>
<text x="453.1" y="283.6" textLength="14.5" lengthAdjust="spacingAndGlyphs">2.5</text>
<text x="543.5" y="283.6" text-anchor="middle">3</text>
<text x="24.6" y="248.8"><tspan textLength="8.95" lengthAdjust="spacingAndGlyphs">−</tspan><tspan x="33.8">4</tspan></text>
<text x="24.6" y="204.5"><tspan textLength="8.95" lengthAdjust="spacingAndGlyphs">−</tspan><tspan x="33.8">2</tspan></text>
<text x="39.8" y="160.3" text-anchor="end">0</text>
<text x="39.8" y="116.1" text-anchor="end">2</text>
<text x="39.8" y="71.8" text-anchor="end">4</text>
</g>
<g font-family="'Liberation Serif', 'DejaVu Serif', serif" fill="#111">
<text x="269.5" y="300.5" font-size="14.3" textLength="48.7" lengthAdjust="spacingAndGlyphs">Time (s)</text>
<text transform="translate(14.8,248.4) rotate(-90)" font-size="14.3" textLength="180.7" lengthAdjust="spacingAndGlyphs">Vibration displacement (mm)</text>
</g>
<rect x="108" y="5.5" width="359" height="36.6" fill="#fff" stroke="#777" stroke-width="1"/>
<path d="M110,15H137.6" stroke="#1F7FCF" stroke-width="1.25" stroke-dasharray="3.8 3.3" fill="none"/>
<path d="M110,32.5H138" stroke="#F7BB35" stroke-width="0.95" stroke-dasharray="1.5 0.8" fill="none"/>
<path d="M262.3,14.9H289.3" stroke="#F8682F" stroke-width="1.05" fill="none"/>
<path d="M262.3,32.3H289.3" stroke="#68B232" stroke-width="1.1" fill="none"/>
<g font-family="'Liberation Serif', 'DejaVu Serif', serif" font-size="13.5" fill="#111">
<text x="140.3" y="17.8" textLength="112.5" lengthAdjust="spacingAndGlyphs">Trapezoidal velocity</text>
<text x="139.9" y="35.5" textLength="41.5" lengthAdjust="spacingAndGlyphs">S-curve</text>
<text x="291.2" y="17.8" textLength="168.8" lengthAdjust="spacingAndGlyphs">Minimum time sinusoidal jerk</text>
<text x="291.2" y="35.6" textLength="144.3" lengthAdjust="spacingAndGlyphs">Optimized sinusoidal jerk</text>
</g>
</svg>
</body></html>
